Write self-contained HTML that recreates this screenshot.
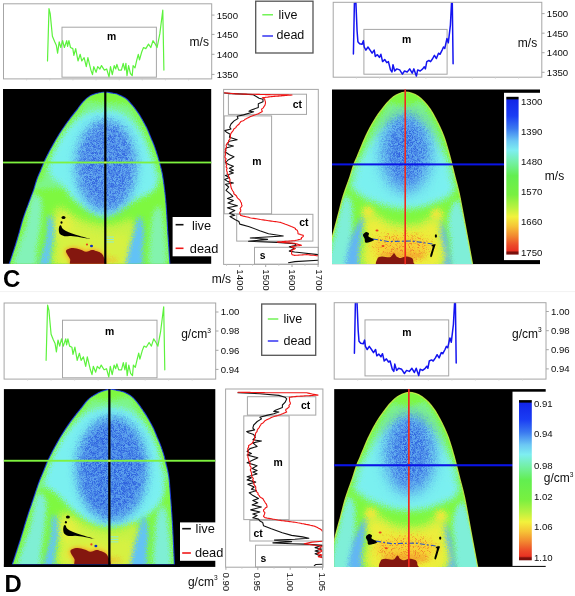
<!DOCTYPE html>
<html lang="en"><head><meta charset="utf-8"><title>Figure C D</title>
<style>html,body{margin:0;padding:0;background:#fff}svg{display:block}text{font-family:'Liberation Sans', Arial, sans-serif}</style>
</head><body>
<svg width="575" height="596" viewBox="0 0 575 596">
<defs>
<filter id="b25" x="-30%" y="-30%" width="160%" height="160%"><feGaussianBlur stdDeviation="2.5"/></filter>
<filter id="b2" x="-30%" y="-30%" width="160%" height="160%"><feGaussianBlur stdDeviation="2.0"/></filter>
<filter id="b3" x="-30%" y="-30%" width="160%" height="160%"><feGaussianBlur stdDeviation="3.0"/></filter>
<filter id="b4" x="-30%" y="-30%" width="160%" height="160%"><feGaussianBlur stdDeviation="4.0"/></filter>
<filter id="b5" x="-30%" y="-30%" width="160%" height="160%"><feGaussianBlur stdDeviation="5.0"/></filter>
<filter id="b6" x="-30%" y="-30%" width="160%" height="160%"><feGaussianBlur stdDeviation="6.0"/></filter>
<filter id="b7" x="-30%" y="-30%" width="160%" height="160%"><feGaussianBlur stdDeviation="7.0"/></filter>
<filter id="nz" x="-40%" y="-40%" width="180%" height="180%"><feGaussianBlur in="SourceGraphic" stdDeviation="6" result="bl"/><feTurbulence type="fractalNoise" baseFrequency="0.42" numOctaves="2" seed="3" result="t"/><feColorMatrix in="t" type="matrix" values="0 0 0 0 0  0 0 0 0 0  0 0 0 0 0  3.2 0 0 0 -1.15" result="na"/><feComposite in="bl" in2="na" operator="in"/></filter>
<filter id="nz3" x="-40%" y="-40%" width="180%" height="180%"><feGaussianBlur in="SourceGraphic" stdDeviation="4" result="bl"/><feTurbulence type="fractalNoise" baseFrequency="0.6" numOctaves="2" seed="21" result="t"/><feColorMatrix in="t" type="matrix" values="0 0 0 0 0  0 0 0 0 0  0 0 0 0 0  4.5 0 0 0 -2.35" result="na"/><feComposite in="bl" in2="na" operator="in"/></filter>
<filter id="nz2" x="-40%" y="-40%" width="180%" height="180%"><feGaussianBlur in="SourceGraphic" stdDeviation="8" result="bl"/><feTurbulence type="fractalNoise" baseFrequency="0.55" numOctaves="2" seed="11" result="t"/><feColorMatrix in="t" type="matrix" values="0 0 0 0 0  0 0 0 0 0  0 0 0 0 0  3.2 0 0 0 -1.15" result="na"/><feComposite in="bl" in2="na" operator="in"/></filter>
<filter id="grain" x="-5%" y="-5%" width="110%" height="110%"><feTurbulence type="fractalNoise" baseFrequency="0.8" numOctaves="1" seed="7" result="t"/><feDisplacementMap in="SourceGraphic" in2="t" scale="9" xChannelSelector="R" yChannelSelector="G"/></filter>
<linearGradient id="cbar" x1="0" y1="0" x2="0" y2="1">
<stop offset="0.000" stop-color="#000000"/>
<stop offset="0.012" stop-color="#000000"/>
<stop offset="0.020" stop-color="#1226e8"/>
<stop offset="0.120" stop-color="#1a3cf4"/>
<stop offset="0.200" stop-color="#3a78f0"/>
<stop offset="0.280" stop-color="#6cc8f4"/>
<stop offset="0.340" stop-color="#7eeef0"/>
<stop offset="0.420" stop-color="#72f0a0"/>
<stop offset="0.500" stop-color="#62ee50"/>
<stop offset="0.620" stop-color="#78f040"/>
<stop offset="0.700" stop-color="#b8f240"/>
<stop offset="0.760" stop-color="#f2f23c"/>
<stop offset="0.820" stop-color="#f6c436"/>
<stop offset="0.880" stop-color="#f28a30"/>
<stop offset="0.940" stop-color="#ec4a28"/>
<stop offset="0.975" stop-color="#e83222"/>
<stop offset="0.985" stop-color="#7a100c"/>
<stop offset="1.000" stop-color="#7a100c"/>
</linearGradient>
</defs>
<rect width="575" height="596" fill="#fff"/>
<line x1="0" y1="291.6" x2="575" y2="291.6" stroke="#f2f2f2" stroke-width="1"/>
<clipPath id="cpA"><rect x="3.5" y="3.8" width="208.2" height="75.1"/></clipPath>
<rect x="62.0" y="27.2" width="94.4" height="50.0" fill="none" stroke="#a6a6a6" stroke-width="1.00" />
<polyline points="47.5,61.0 49.0,8.6 50.2,13.6 52.4,36.2 54.7,41.8 56.3,45.2 57.6,53.1 59.2,41.8 60.8,47.5 62.6,40.7 64.4,47.5 66.7,40.7 67.6,46.3 68.9,40.7 70.5,47.5 72.8,48.6 73.9,55.4 75.7,48.6 78.0,61.0 80.2,54.3 81.8,61.0 84.1,57.7 86.3,66.7 87.9,57.7 90.9,70.1 92.5,74.6 93.8,66.7 96.1,72.3 97.7,66.7 99.9,69.0 101.5,65.6 104.4,70.1 106.7,69.0 109.0,76.9 110.5,66.7 112.3,74.6 114.2,65.6 115.7,69.0 116.9,64.4 118.7,70.1 121.4,70.1 123.2,63.3 124.8,70.1 125.9,63.3 127.0,75.7 128.6,65.6 130.4,73.5 132.2,75.7 133.1,65.6 135.0,67.8 136.8,59.9 138.3,54.3 139.5,59.9 141.7,52.0 143.5,47.5 145.8,48.6 148.5,44.1 150.8,47.5 153.0,40.7 155.3,44.1 157.1,47.5 159.8,33.9 162.8,10.2 163.9,70.1" fill="none" stroke="#5cf23c" stroke-width="1.20" stroke-linejoin="round" stroke-linecap="round" clip-path="url(#cpA)"/>
<rect x="3.5" y="3.8" width="208.2" height="75.1" fill="none" stroke="#a6a6a6" stroke-width="1.00" />
<line x1="211.7" y1="15.1" x2="214.5" y2="15.1" stroke="#a6a6a6" stroke-width="1"/>
<text x="216.7" y="18.5" font-size="9.6" font-weight="normal" text-anchor="start" fill="#0d0d0d" >1500</text>
<line x1="211.7" y1="34.4" x2="214.5" y2="34.4" stroke="#a6a6a6" stroke-width="1"/>
<text x="216.7" y="37.8" font-size="9.6" font-weight="normal" text-anchor="start" fill="#0d0d0d" >1450</text>
<line x1="211.7" y1="54.3" x2="214.5" y2="54.3" stroke="#a6a6a6" stroke-width="1"/>
<text x="216.7" y="57.7" font-size="9.6" font-weight="normal" text-anchor="start" fill="#0d0d0d" >1400</text>
<line x1="211.7" y1="74.4" x2="214.5" y2="74.4" stroke="#a6a6a6" stroke-width="1"/>
<text x="216.7" y="77.8" font-size="9.6" font-weight="normal" text-anchor="start" fill="#0d0d0d" >1350</text>
<line x1="26.6" y1="78.9" x2="26.6" y2="80.4" stroke="#d0d0d0" stroke-width="0.8"/>
<line x1="49.8" y1="78.9" x2="49.8" y2="80.4" stroke="#d0d0d0" stroke-width="0.8"/>
<line x1="72.9" y1="78.9" x2="72.9" y2="80.4" stroke="#d0d0d0" stroke-width="0.8"/>
<line x1="96.0" y1="78.9" x2="96.0" y2="80.4" stroke="#d0d0d0" stroke-width="0.8"/>
<line x1="119.2" y1="78.9" x2="119.2" y2="80.4" stroke="#d0d0d0" stroke-width="0.8"/>
<line x1="142.3" y1="78.9" x2="142.3" y2="80.4" stroke="#d0d0d0" stroke-width="0.8"/>
<line x1="165.4" y1="78.9" x2="165.4" y2="80.4" stroke="#d0d0d0" stroke-width="0.8"/>
<line x1="188.6" y1="78.9" x2="188.6" y2="80.4" stroke="#d0d0d0" stroke-width="0.8"/>
<text x="189.6" y="45.6" font-size="12.0" font-weight="normal" text-anchor="start" fill="#0d0d0d" >m/s</text>
<text x="111.6" y="40.3" font-size="10.4" font-weight="bold" text-anchor="middle" fill="#000" >m</text>
<clipPath id="cpB"><rect x="333.2" y="2.3" width="208.6" height="74.9"/></clipPath>
<rect x="363.9" y="29.4" width="83.2" height="44.8" fill="none" stroke="#a6a6a6" stroke-width="1.00" />
<polyline points="353.4,53.9 354.4,3.1 355.9,2.5 357.1,31.3 357.9,41.8 359.6,43.8 362.1,44.3 363.4,40.7 364.2,47.0 365.9,50.1 368.0,47.0 370.1,50.1 372.1,53.2 374.2,50.1 375.3,56.4 377.4,54.7 379.4,57.4 380.9,54.3 382.6,61.6 384.7,59.5 386.8,62.6 388.4,61.6 390.5,69.9 392.0,72.0 393.0,64.7 394.7,71.0 396.8,68.9 399.7,69.9 402.4,74.1 404.5,71.0 407.2,72.0 409.7,68.9 412.2,73.1 413.9,68.9 416.4,76.2 417.7,69.9 420.2,71.0 422.7,68.9 424.3,66.8 425.4,68.9 426.8,61.6 428.9,60.5 430.6,61.6 432.7,58.5 434.4,55.3 436.4,58.5 438.5,53.2 440.0,54.3 442.1,50.1 443.5,47.0 444.8,48.4 446.9,38.6 448.3,42.8 450.4,25.1 451.5,3.1 452.3,3.1 453.1,63.7" fill="none" stroke="#1414f0" stroke-width="1.50" stroke-linejoin="round" stroke-linecap="round" clip-path="url(#cpB)"/>
<rect x="333.2" y="2.3" width="208.6" height="74.9" fill="none" stroke="#a6a6a6" stroke-width="1.00" />
<line x1="541.8" y1="13.6" x2="544.6" y2="13.6" stroke="#a6a6a6" stroke-width="1"/>
<text x="546.8" y="17.0" font-size="9.6" font-weight="normal" text-anchor="start" fill="#0d0d0d" >1500</text>
<line x1="541.8" y1="33.2" x2="544.6" y2="33.2" stroke="#a6a6a6" stroke-width="1"/>
<text x="546.8" y="36.6" font-size="9.6" font-weight="normal" text-anchor="start" fill="#0d0d0d" >1450</text>
<line x1="541.8" y1="52.7" x2="544.6" y2="52.7" stroke="#a6a6a6" stroke-width="1"/>
<text x="546.8" y="56.1" font-size="9.6" font-weight="normal" text-anchor="start" fill="#0d0d0d" >1400</text>
<line x1="541.8" y1="72.3" x2="544.6" y2="72.3" stroke="#a6a6a6" stroke-width="1"/>
<text x="546.8" y="75.7" font-size="9.6" font-weight="normal" text-anchor="start" fill="#0d0d0d" >1350</text>
<line x1="356.4" y1="77.2" x2="356.4" y2="78.7" stroke="#d0d0d0" stroke-width="0.8"/>
<line x1="379.6" y1="77.2" x2="379.6" y2="78.7" stroke="#d0d0d0" stroke-width="0.8"/>
<line x1="402.7" y1="77.2" x2="402.7" y2="78.7" stroke="#d0d0d0" stroke-width="0.8"/>
<line x1="425.9" y1="77.2" x2="425.9" y2="78.7" stroke="#d0d0d0" stroke-width="0.8"/>
<line x1="449.1" y1="77.2" x2="449.1" y2="78.7" stroke="#d0d0d0" stroke-width="0.8"/>
<line x1="472.3" y1="77.2" x2="472.3" y2="78.7" stroke="#d0d0d0" stroke-width="0.8"/>
<line x1="495.4" y1="77.2" x2="495.4" y2="78.7" stroke="#d0d0d0" stroke-width="0.8"/>
<line x1="518.6" y1="77.2" x2="518.6" y2="78.7" stroke="#d0d0d0" stroke-width="0.8"/>
<text x="517.8" y="46.5" font-size="12.0" font-weight="normal" text-anchor="start" fill="#0d0d0d" >m/s</text>
<text x="406.5" y="43.0" font-size="10.4" font-weight="bold" text-anchor="middle" fill="#000" >m</text>
<rect x="255.7" y="1.2" width="57.3" height="51.8" fill="#fff" stroke="#555" stroke-width="1.30" />
<line x1="262.3" y1="14.8" x2="273" y2="14.8" stroke="#5cf23c" stroke-width="1.3"/>
<line x1="262.3" y1="36" x2="273" y2="36" stroke="#1414f0" stroke-width="1.3"/>
<text x="278.6" y="18.6" font-size="12.5" font-weight="normal" text-anchor="start" fill="#0d0d0d" >live</text>
<text x="276.5" y="39.3" font-size="12.5" font-weight="normal" text-anchor="start" fill="#0d0d0d" >dead</text>
<clipPath id="clip1"><path d="M8.2,266.0 C8.5,265.3 8.4,266.4 9.9,262.0 C11.4,257.6 15.0,246.7 17.2,239.5 C19.4,232.3 20.8,225.9 23.0,219.0 C25.2,212.1 28.8,203.0 30.6,198.0 C32.4,193.0 32.9,192.2 33.9,189.1 C34.9,186.0 35.8,182.5 36.9,179.3 C38.0,176.2 39.5,173.2 40.7,170.2 C42.0,167.2 43.0,164.2 44.4,161.2 C45.8,158.2 47.5,155.0 49.0,152.1 C50.5,149.2 51.9,146.7 53.5,143.8 C55.1,140.9 56.9,137.7 58.8,134.7 C60.7,131.7 62.8,128.6 64.8,125.7 C66.8,122.8 68.9,120.1 70.9,117.4 C72.9,114.8 74.9,112.4 76.9,109.8 C78.9,107.2 80.9,104.1 83.0,101.8 C85.1,99.5 87.4,97.5 89.6,96.1 C91.8,94.7 93.5,94.2 96.1,93.5 C98.7,92.8 102.2,92.0 105.0,92.0 C107.8,92.0 110.8,92.9 113.0,93.3 C115.2,93.7 115.9,93.6 118.0,94.4 C120.1,95.2 123.3,96.7 125.6,98.3 C127.9,99.9 129.7,102.2 131.6,104.3 C133.5,106.4 135.1,108.6 136.9,111.1 C138.7,113.6 140.6,116.6 142.2,119.4 C143.8,122.2 145.3,124.9 146.7,127.8 C148.1,130.7 149.2,133.8 150.5,136.8 C151.8,139.8 153.2,142.9 154.3,145.9 C155.4,148.9 156.4,152.1 157.3,154.9 C158.2,157.7 158.8,159.7 159.5,162.5 C160.2,165.3 161.2,168.6 161.8,171.5 C162.4,174.4 162.6,175.0 163.3,180.0 C164.0,185.0 165.1,192.5 165.8,201.3 C166.6,210.1 167.1,221.8 167.8,232.6 C168.5,243.4 169.6,260.4 170.0,266.0Z"/></clipPath>
<clipPath id="box1"><rect x="3.0" y="89.0" width="208.2" height="174.8"/></clipPath>
<rect x="3.0" y="89.0" width="208.2" height="174.8" fill="#000"/>
<g clip-path="url(#box1)">
<g clip-path="url(#clip1)">
<path d="M8.2,266.0 C8.5,265.3 8.4,266.4 9.9,262.0 C11.4,257.6 15.0,246.7 17.2,239.5 C19.4,232.3 20.8,225.9 23.0,219.0 C25.2,212.1 28.8,203.0 30.6,198.0 C32.4,193.0 32.9,192.2 33.9,189.1 C34.9,186.0 35.8,182.5 36.9,179.3 C38.0,176.2 39.5,173.2 40.7,170.2 C42.0,167.2 43.0,164.2 44.4,161.2 C45.8,158.2 47.5,155.0 49.0,152.1 C50.5,149.2 51.9,146.7 53.5,143.8 C55.1,140.9 56.9,137.7 58.8,134.7 C60.7,131.7 62.8,128.6 64.8,125.7 C66.8,122.8 68.9,120.1 70.9,117.4 C72.9,114.8 74.9,112.4 76.9,109.8 C78.9,107.2 80.9,104.1 83.0,101.8 C85.1,99.5 87.4,97.5 89.6,96.1 C91.8,94.7 93.5,94.2 96.1,93.5 C98.7,92.8 102.2,92.0 105.0,92.0 C107.8,92.0 110.8,92.9 113.0,93.3 C115.2,93.7 115.9,93.6 118.0,94.4 C120.1,95.2 123.3,96.7 125.6,98.3 C127.9,99.9 129.7,102.2 131.6,104.3 C133.5,106.4 135.1,108.6 136.9,111.1 C138.7,113.6 140.6,116.6 142.2,119.4 C143.8,122.2 145.3,124.9 146.7,127.8 C148.1,130.7 149.2,133.8 150.5,136.8 C151.8,139.8 153.2,142.9 154.3,145.9 C155.4,148.9 156.4,152.1 157.3,154.9 C158.2,157.7 158.8,159.7 159.5,162.5 C160.2,165.3 161.2,168.6 161.8,171.5 C162.4,174.4 162.6,175.0 163.3,180.0 C164.0,185.0 165.1,192.5 165.8,201.3 C166.6,210.1 167.1,221.8 167.8,232.6 C168.5,243.4 169.6,260.4 170.0,266.0Z" fill="#7ef840"/>
<g filter="url(#grain)">
<path d="M8.2,266.0 C8.5,265.3 8.4,266.4 9.9,262.0 C11.4,257.6 15.0,246.7 17.2,239.5 C19.4,232.3 20.8,225.9 23.0,219.0 C25.2,212.1 28.8,203.0 30.6,198.0 C32.4,193.0 32.9,192.2 33.9,189.1 C34.9,186.0 35.8,182.5 36.9,179.3 C38.0,176.2 39.5,173.2 40.7,170.2 C42.0,167.2 43.0,164.2 44.4,161.2 C45.8,158.2 47.5,155.0 49.0,152.1 C50.5,149.2 51.9,146.7 53.5,143.8 C55.1,140.9 56.9,137.7 58.8,134.7 C60.7,131.7 62.8,128.6 64.8,125.7 C66.8,122.8 68.9,120.1 70.9,117.4 C72.9,114.8 74.9,112.4 76.9,109.8 C78.9,107.2 80.9,104.1 83.0,101.8 C85.1,99.5 87.4,97.5 89.6,96.1 C91.8,94.7 93.5,94.2 96.1,93.5 C98.7,92.8 102.2,92.0 105.0,92.0 C107.8,92.0 110.8,92.9 113.0,93.3 C115.2,93.7 115.9,93.6 118.0,94.4 C120.1,95.2 123.3,96.7 125.6,98.3 C127.9,99.9 129.7,102.2 131.6,104.3 C133.5,106.4 135.1,108.6 136.9,111.1 C138.7,113.6 140.6,116.6 142.2,119.4 C143.8,122.2 145.3,124.9 146.7,127.8 C148.1,130.7 149.2,133.8 150.5,136.8 C151.8,139.8 153.2,142.9 154.3,145.9 C155.4,148.9 156.4,152.1 157.3,154.9 C158.2,157.7 158.8,159.7 159.5,162.5 C160.2,165.3 161.2,168.6 161.8,171.5 C162.4,174.4 162.6,175.0 163.3,180.0 C164.0,185.0 165.1,192.5 165.8,201.3 C166.6,210.1 167.1,221.8 167.8,232.6 C168.5,243.4 169.6,260.4 170.0,266.0Z" fill="#7ef840"/>
<g filter="url(#b2)"><path d="M105.0,103.0 C111.6,103.4 122.5,103.0 127.1,104.3 C131.7,105.6 130.6,108.6 132.4,111.1 C134.2,113.6 136.1,116.6 137.7,119.4 C139.3,122.2 140.8,124.9 142.2,127.8 C143.6,130.7 144.7,133.8 146.0,136.8 C147.3,139.8 148.7,142.9 149.8,145.9 C150.9,148.9 151.9,152.1 152.8,154.9 C153.7,157.7 154.2,159.7 155.0,162.5 C155.8,165.3 156.7,168.6 157.3,171.5 C157.9,174.4 178.6,177.1 158.8,180.0 C139.0,182.9 58.0,189.2 38.4,189.1 C18.8,189.0 40.3,182.5 41.4,179.3 C42.5,176.2 44.0,173.2 45.2,170.2 C46.5,167.2 47.5,164.2 48.9,161.2 C50.3,158.2 52.0,155.0 53.5,152.1 C55.0,149.2 56.4,146.7 58.0,143.8 C59.6,140.9 61.4,137.7 63.3,134.7 C65.2,131.7 67.3,128.6 69.3,125.7 C71.3,122.8 73.4,120.1 75.4,117.4 C77.4,114.8 79.4,112.4 81.4,109.8 C83.4,107.2 83.6,102.9 87.5,101.8 C91.4,100.7 98.4,102.6 105.0,103.0Z" fill="#7af0f0" opacity="0.42"/></g>
<g filter="url(#b25)"><path d="M105.0,110.0 C109.2,110.1 114.2,110.3 118.0,111.5 C121.8,112.7 125.0,114.6 128.0,117.0 C131.0,119.4 133.5,122.7 136.0,126.0 C138.5,129.3 140.9,133.0 143.0,137.0 C145.1,141.0 146.8,145.8 148.5,150.0 C150.2,154.2 151.5,157.0 153.0,162.0 C154.5,167.0 157.0,175.7 157.5,180.0 C158.0,184.3 157.2,185.8 156.0,188.0 C154.8,190.2 153.0,191.2 150.0,193.0 C147.0,194.8 141.7,197.0 138.0,199.0 C134.3,201.0 131.3,202.8 128.0,205.0 C124.7,207.2 121.0,210.2 118.0,212.0 C115.0,213.8 112.2,215.2 110.0,216.0 C107.8,216.8 106.7,216.9 105.0,217.0 C103.3,217.1 102.5,217.3 100.0,216.5 C97.5,215.7 93.3,213.9 90.0,212.0 C86.7,210.1 83.0,207.3 80.0,205.0 C77.0,202.7 74.3,200.5 72.0,198.0 C69.7,195.5 68.0,192.5 66.0,190.0 C64.0,187.5 62.2,184.8 60.0,183.0 C57.8,181.2 54.8,181.2 53.0,179.0 C51.2,176.8 49.4,172.8 49.0,170.0 C48.6,167.2 49.5,165.3 50.5,162.0 C51.5,158.7 53.1,154.2 55.0,150.0 C56.9,145.8 59.4,141.0 62.0,137.0 C64.6,133.0 67.3,129.4 70.5,126.0 C73.7,122.6 77.2,119.0 81.0,116.5 C84.8,114.0 89.0,112.1 93.0,111.0 C97.0,109.9 100.8,109.9 105.0,110.0Z" fill="#7af0f0" opacity="1.00"/></g>
<g filter="url(#b5)"><ellipse cx="106.0" cy="166.0" rx="30.0" ry="46.0" fill="#62a6ee" opacity="0.95"/></g>
<g filter="url(#nz)"><ellipse cx="106.0" cy="165.0" rx="28.0" ry="44.0" fill="#3468e0" opacity="1.00"/></g>
<g filter="url(#b2)"><path d="M32.0,196.0 C34.6,191.7 40.1,195.0 41.5,200.0 C42.9,205.0 41.2,217.7 40.5,226.0 C39.8,234.3 38.0,243.2 37.0,250.0 C36.0,256.8 38.3,264.2 34.5,267.0 C30.7,269.8 16.6,270.7 14.0,267.0 C11.4,263.3 17.1,251.8 19.0,245.0 C20.9,238.2 23.5,234.2 25.7,226.0 C27.9,217.8 29.4,200.3 32.0,196.0Z" fill="#84f2cc" opacity="0.85"/></g>
<g filter="url(#b2)"><path d="M153.0,214.0 C154.7,208.5 158.2,205.2 160.0,207.0 C161.8,208.8 163.0,215.0 164.0,225.0 C165.0,235.0 168.3,260.0 166.0,267.0 C163.7,274.0 152.7,271.5 150.0,267.0 C147.3,262.5 149.5,248.8 150.0,240.0 C150.5,231.2 151.3,219.5 153.0,214.0Z" fill="#84f2c0" opacity="0.85"/></g>
<g filter="url(#b3)"><path d="M55.0,210.0 C56.7,207.0 59.2,206.3 62.0,207.0 C64.8,207.7 68.0,211.7 72.0,214.0 C76.0,216.3 80.3,219.2 86.0,221.0 C91.7,222.8 100.0,224.8 106.0,225.0 C112.0,225.2 118.0,223.0 122.0,222.0 C126.0,221.0 127.7,218.3 130.0,219.0 C132.3,219.7 135.3,221.7 136.0,226.0 C136.7,230.3 134.7,238.2 134.0,245.0 C133.3,251.8 144.7,263.3 132.0,267.0 C119.3,270.7 71.0,270.7 58.0,267.0 C45.0,263.3 55.0,252.0 54.0,245.0 C53.0,238.0 51.8,230.8 52.0,225.0 C52.2,219.2 53.3,213.0 55.0,210.0Z" fill="#c6f244" opacity="1.00"/></g>
<g filter="url(#b3)"><path d="M58.0,216.0 C59.7,214.0 63.0,212.7 66.0,214.0 C69.0,215.3 71.7,221.0 76.0,224.0 C80.3,227.0 86.7,230.0 92.0,232.0 C97.3,234.0 103.0,235.7 108.0,236.0 C113.0,236.3 118.7,233.3 122.0,234.0 C125.3,234.7 127.3,234.5 128.0,240.0 C128.7,245.5 137.0,262.5 126.0,267.0 C115.0,271.5 73.3,270.8 62.0,267.0 C50.7,263.2 59.0,250.8 58.0,244.0 C57.0,237.2 56.0,230.7 56.0,226.0 C56.0,221.3 56.3,218.0 58.0,216.0Z" fill="#e8f03e" opacity="0.48"/></g>
<g filter="url(#b3)"><ellipse cx="64.0" cy="226.0" rx="7.0" ry="10.0" fill="#eef03c" opacity="0.70"/></g>
<g filter="url(#b3)"><ellipse cx="84.0" cy="254.0" rx="22.0" ry="7.0" fill="#f8dc34" opacity="0.80"/></g>
<g filter="url(#b2)"><ellipse cx="111.0" cy="260.0" rx="7.0" ry="3.5" fill="#f6b42e" opacity="0.50"/></g>
<g filter="url(#b2)"><path d="M48.0,217.0 C49.0,214.2 51.6,215.8 52.5,219.0 C53.4,222.2 53.8,230.8 53.5,236.0 C53.2,241.2 51.8,244.8 51.0,250.0 C50.2,255.2 50.7,264.2 48.8,267.0 C46.9,269.8 40.5,269.8 39.5,267.0 C38.5,264.2 41.8,255.2 43.0,250.0 C44.2,244.8 45.7,241.5 46.5,236.0 C47.3,230.5 47.0,219.8 48.0,217.0Z" fill="#64c6f4" opacity="1.00"/></g>
<g filter="url(#b2)"><path d="M138.0,218.0 C139.5,215.3 141.0,217.0 142.0,220.0 C143.0,223.0 143.9,231.0 144.0,236.0 C144.1,241.0 142.9,244.8 142.5,250.0 C142.1,255.2 144.2,264.2 141.6,267.0 C139.0,269.8 129.1,269.8 127.0,267.0 C124.9,264.2 128.0,255.2 129.0,250.0 C130.0,244.8 131.5,241.3 133.0,236.0 C134.5,230.7 136.5,220.7 138.0,218.0Z" fill="#62c2f6" opacity="1.00"/></g>
</g>
<g filter="url(#b2)"><path d="M66.0,251.0 C66.4,249.2 70.2,248.2 72.5,248.0 C74.8,247.8 77.8,248.9 80.0,249.5 C82.2,250.1 84.0,251.6 86.0,251.7 C88.0,251.8 90.3,250.1 92.0,250.0 C93.7,249.9 94.6,250.6 96.0,251.0 C97.4,251.4 99.2,251.8 100.4,252.7 C101.7,253.6 102.9,254.3 103.5,256.5 C104.1,258.7 109.1,264.4 104.0,266.0 C98.9,267.6 78.7,267.2 73.0,266.0 C67.3,264.8 71.2,261.5 70.0,259.0 C68.8,256.5 65.6,252.8 66.0,251.0Z" fill="#f07a26" opacity="0.90"/></g>
<path d="M66.0,251.0 C66.4,249.2 70.2,248.2 72.5,248.0 C74.8,247.8 77.8,248.9 80.0,249.5 C82.2,250.1 84.0,251.6 86.0,251.7 C88.0,251.8 90.3,250.1 92.0,250.0 C93.7,249.9 94.6,250.6 96.0,251.0 C97.4,251.4 99.2,251.8 100.4,252.7 C101.7,253.6 102.9,254.3 103.5,256.5 C104.1,258.7 109.1,264.4 104.0,266.0 C98.9,267.6 78.7,267.2 73.0,266.0 C67.3,264.8 71.2,261.5 70.0,259.0 C68.8,256.5 65.6,252.8 66.0,251.0Z" fill="#84170f" opacity="1.00"/>
<ellipse cx="63.5" cy="217.5" rx="2.0" ry="1.5" fill="#000" opacity="1.00"/>
<ellipse cx="61.5" cy="222.5" rx="1.0" ry="1.2" fill="#000" opacity="1.00"/>
<path d="M59.5,226.0 C59.9,225.2 60.5,225.1 61.0,225.5 C61.5,225.9 61.7,227.6 62.5,228.5 C63.3,229.4 64.4,230.2 66.0,231.0 C67.6,231.8 69.7,232.6 72.0,233.4 C74.3,234.2 77.0,235.1 80.0,236.0 C83.0,236.9 90.0,238.8 90.0,239.0 C90.0,239.2 83.2,237.7 80.0,237.2 C76.8,236.7 73.6,236.2 71.0,236.0 C68.4,235.8 66.3,236.5 64.5,236.2 C62.7,235.9 61.0,235.0 60.0,234.0 C59.0,233.0 58.9,231.3 58.8,230.0 C58.7,228.7 59.1,226.8 59.5,226.0Z" fill="#000" opacity="1.00"/>
<ellipse cx="91.5" cy="246.0" rx="1.5" ry="1.2" fill="#1030c0" opacity="1.00"/>
<ellipse cx="87.0" cy="244.5" rx="1.1" ry="1.1" fill="#e84020" opacity="1.00"/>
<line x1="106.0" y1="237.0" x2="114.0" y2="237.0" stroke="#8eeed0" stroke-width="1"/>
<line x1="106.0" y1="239.5" x2="114.0" y2="239.5" stroke="#8eeed0" stroke-width="1"/>
<line x1="106.0" y1="242.0" x2="114.0" y2="242.0" stroke="#8eeed0" stroke-width="1"/>
</g>
<path d="M8.2,266.0 C8.5,265.3 8.4,266.4 9.9,262.0 C11.4,257.6 15.0,246.7 17.2,239.5 C19.4,232.3 20.8,225.9 23.0,219.0 C25.2,212.1 28.8,203.0 30.6,198.0 C32.4,193.0 32.9,192.2 33.9,189.1 C34.9,186.0 35.8,182.5 36.9,179.3 C38.0,176.2 39.5,173.2 40.7,170.2 C42.0,167.2 43.0,164.2 44.4,161.2 C45.8,158.2 47.5,155.0 49.0,152.1 C50.5,149.2 51.9,146.7 53.5,143.8 C55.1,140.9 56.9,137.7 58.8,134.7 C60.7,131.7 62.8,128.6 64.8,125.7 C66.8,122.8 68.9,120.1 70.9,117.4 C72.9,114.8 74.9,112.4 76.9,109.8 C78.9,107.2 80.9,104.1 83.0,101.8 C85.1,99.5 87.4,97.5 89.6,96.1 C91.8,94.7 93.5,94.2 96.1,93.5 C98.7,92.8 102.2,92.0 105.0,92.0 C107.8,92.0 110.8,92.9 113.0,93.3 C115.2,93.7 115.9,93.6 118.0,94.4 C120.1,95.2 123.3,96.7 125.6,98.3 C127.9,99.9 129.7,102.2 131.6,104.3 C133.5,106.4 135.1,108.6 136.9,111.1 C138.7,113.6 140.6,116.6 142.2,119.4 C143.8,122.2 145.3,124.9 146.7,127.8 C148.1,130.7 149.2,133.8 150.5,136.8 C151.8,139.8 153.2,142.9 154.3,145.9 C155.4,148.9 156.4,152.1 157.3,154.9 C158.2,157.7 158.8,159.7 159.5,162.5 C160.2,165.3 161.2,168.6 161.8,171.5 C162.4,174.4 162.6,175.0 163.3,180.0 C164.0,185.0 165.1,192.5 165.8,201.3 C166.6,210.1 167.1,221.8 167.8,232.6 C168.5,243.4 169.6,260.4 170.0,266.0Z" fill="none" stroke="#1c3cf0" stroke-width="1.1" opacity="0.85"/>
</g>
<rect x="104.2" y="89" width="2.2" height="174.8" fill="#000"/>
<rect x="3" y="161.6" width="208.3" height="1.8" fill="#7ef23e"/>
<rect x="104.2" y="161.6" width="2.2" height="1.8" fill="#c8f040"/>
<rect x="172.6" y="217" width="50" height="39.3" fill="#fff"/>
<line x1="175.6" y1="224.7" x2="183.5" y2="224.7" stroke="#111" stroke-width="1.6"/>
<line x1="175.6" y1="248.3" x2="183.5" y2="248.3" stroke="#f01818" stroke-width="1.6"/>
<text x="191.9" y="229.5" font-size="12.8" font-weight="normal" text-anchor="start" fill="#0d0d0d" >live</text>
<text x="189.8" y="252.5" font-size="12.8" font-weight="normal" text-anchor="start" fill="#0d0d0d" >dead</text>
<text x="3.1" y="287.3" font-size="24.0" font-weight="bold" text-anchor="start" fill="#000" >C</text>
<clipPath id="cpC"><rect x="223.6" y="89.4" width="94.8" height="175"/></clipPath>
<rect x="228.4" y="94.2" width="78.1" height="20.2" fill="none" stroke="#a6a6a6" stroke-width="1.00" />
<rect x="224.2" y="115.9" width="47.4" height="97.9" fill="none" stroke="#a6a6a6" stroke-width="1.00" />
<rect x="236.7" y="214.3" width="76.2" height="26.8" fill="none" stroke="#a6a6a6" stroke-width="1.00" />
<rect x="254.5" y="247.3" width="63.8" height="16.9" fill="none" stroke="#a6a6a6" stroke-width="1.00" />
<polyline points="223.4,93.0 252.9,94.6 259.1,98.2 263.0,99.3 263.0,101.8 258.3,103.7 258.3,107.6 251.3,109.9 249.0,111.2 253.7,111.8 249.7,113.0 243.5,114.9 237.2,116.2 238.0,118.5 234.1,120.9 231.0,124.0 229.7,127.1 231.0,129.0 224.7,130.6 227.0,132.6 230.2,134.2 229.4,137.3 237.2,139.7 229.4,141.2 228.0,142.7 228.0,144.7 233.4,146.0 226.0,148.0 225.4,152.0 229.4,154.8 234.0,156.8 228.0,160.0 225.4,162.8 229.4,164.8 233.4,166.2 229.4,168.2 233.4,170.2 229.4,171.5 233.4,172.9 225.4,175.6 229.4,177.6 224.7,179.6 228.0,181.6 233.4,183.0 225.4,184.3 228.7,187.0 226.0,190.3 230.0,193.7 232.8,196.4 227.4,198.4 233.4,200.4 228.0,203.0 237.4,205.8 227.4,207.8 234.8,210.5 229.4,213.2 234.8,215.2 230.0,216.5 235.4,219.8 238.9,221.5 239.8,224.1 249.3,226.7 259.8,230.7 268.5,233.7 283.3,236.0 250.2,238.0 267.6,239.4 248.5,241.2 277.2,242.4 294.6,243.6 296.3,245.3 289.3,246.7 294.6,248.5 289.3,251.1 294.6,252.0 301.5,252.8 318.0,254.6" fill="none" stroke="#111" stroke-width="1.10" stroke-linejoin="round" stroke-linecap="round" clip-path="url(#cpC)"/>
<polyline points="288.5,262.7 295.0,261.6 318.0,260.3" fill="none" stroke="#111" stroke-width="1.10" stroke-linejoin="round" stroke-linecap="round" clip-path="url(#cpC)"/>
<polyline points="223.4,92.7 224.8,92.8 226.1,93.0 227.5,93.1 228.9,93.2 230.2,93.4 231.6,93.5 233.0,93.6 234.3,93.8 235.7,93.9 237.0,93.9 238.3,94.0 239.6,94.0 240.9,94.0 242.2,94.0 243.5,94.1 244.8,94.1 246.1,94.1 247.4,94.2 248.7,94.2 250.0,94.2 251.3,94.2 252.7,94.3 254.0,94.3 255.3,94.3 256.6,94.4 257.9,94.4 259.2,94.4 260.5,94.5 261.8,94.5 263.1,94.5 264.4,94.5 265.7,94.6 267.0,94.6 268.3,94.6 269.6,94.6 270.9,94.7 272.3,94.7 273.6,94.7 274.9,94.7 276.2,94.7 277.5,94.8 278.8,94.8 280.2,94.8 281.5,94.8 282.8,94.9 284.1,94.9 285.4,94.9 286.7,94.9 288.1,94.9 289.4,95.0 290.7,95.0 292.0,95.0 290.6,95.1 289.3,95.2 287.9,95.3 286.6,95.4 285.2,95.5 283.9,95.6 282.5,95.7 281.2,95.9 279.8,96.0 278.5,96.1 277.1,96.2 275.8,96.3 274.4,96.4 273.1,96.5 271.7,96.6 270.4,96.8 269.0,96.9 267.7,97.1 266.3,97.2 265.0,97.4 263.6,97.5 262.3,97.7 263.5,98.3 264.6,99.0 265.0,100.6 265.5,102.1 265.4,103.7 265.0,105.2 263.8,106.8 263.3,107.9 261.5,109.1 262.3,111.5 261.0,112.3 259.6,113.0 258.3,113.8 256.9,114.3 255.5,114.8 254.1,115.2 252.7,115.7 251.3,116.2 250.0,116.8 248.8,117.4 247.5,118.1 246.3,118.7 245.0,119.3 244.2,120.1 243.2,120.8 240.8,121.6 240.3,122.4 239.3,123.4 239.0,124.3 237.6,125.3 236.4,126.3 235.9,127.6 233.8,129.0 233.3,130.3 232.1,131.9 231.0,133.4 230.4,135.0 230.5,136.5 230.2,138.1 229.8,139.4 228.5,140.7 228.6,142.0 227.3,143.1 226.6,144.3 226.0,145.4 226.5,146.7 226.2,148.1 225.2,149.4 226.0,150.7 225.0,152.1 225.4,153.4 225.6,154.8 225.0,156.1 224.9,157.4 226.2,158.8 225.4,160.2 225.5,161.5 226.6,162.8 226.0,164.2 226.7,165.5 226.0,166.9 227.1,168.2 226.6,169.6 226.7,170.9 227.3,172.2 227.1,173.6 228.5,174.9 228.6,176.3 228.7,177.6 229.8,178.9 230.1,180.3 229.6,181.6 230.1,183.0 230.7,184.3 230.7,185.6 231.0,187.0 231.4,188.3 232.1,189.7 232.8,191.0 233.8,192.3 233.8,193.7 235.4,195.0 236.5,196.0 236.9,197.1 237.7,198.1 238.8,199.1 240.1,200.4 240.6,201.8 241.5,203.1 241.5,204.4 242.1,205.8 241.1,207.2 240.1,208.5 240.7,209.8 240.8,211.1 239.7,212.3 239.8,213.5 240.7,215.4 242.0,215.7 243.3,216.1 244.6,216.4 245.9,216.7 247.2,217.0 248.5,217.3 249.8,217.7 251.1,218.0 252.4,218.2 253.8,218.4 255.1,218.6 256.5,218.8 257.8,219.0 259.1,219.2 260.5,219.5 261.8,219.7 263.1,219.9 264.5,220.1 265.8,220.3 267.2,220.5 268.5,220.7 269.9,220.9 271.2,221.1 272.6,221.3 273.9,221.5 275.3,221.6 276.6,221.8 278.0,222.0 279.3,222.2 280.7,222.4 282.1,222.9 283.5,223.4 284.8,224.0 286.2,224.5 287.6,225.0 288.8,225.5 290.0,226.0 291.3,226.6 292.5,227.1 293.7,227.6 295.5,228.5 295.4,229.3 297.2,230.2 297.9,231.9 298.0,233.7 299.3,234.1 300.6,234.6 302.0,235.0 303.3,235.4 303.2,236.6 301.4,237.7 301.5,238.9 300.1,239.3 298.7,239.6 297.4,240.0 296.0,240.3 294.6,240.7 293.3,240.8 291.9,240.9 290.6,241.0 289.2,241.1 287.9,241.2 286.6,241.3 285.2,241.4 283.9,241.5 282.6,241.6 281.2,241.7 279.9,241.8 278.5,241.9 277.2,242.0 278.5,242.1 279.9,242.2 281.2,242.3 282.6,242.4 283.9,242.5 285.2,242.6 286.6,242.7 287.9,242.8 289.2,242.9 290.6,243.0 291.9,243.1 293.3,243.2 294.6,243.3 296.0,243.7 297.4,244.1 298.7,244.5 300.1,244.9 301.5,245.3 300.2,245.5 298.9,245.7 297.6,245.8 296.3,246.0 295.0,246.2 293.7,246.3 292.4,246.5 291.1,246.7 292.5,247.3 294.0,247.9 295.4,248.5 294.0,249.2 292.5,249.9 291.1,250.6 291.8,251.9 291.5,253.3 292.0,254.6 293.3,255.0 294.6,255.4 295.9,255.3 297.3,255.2 298.6,255.1 300.0,255.0 301.3,255.0 302.7,254.9 304.0,254.8 305.4,254.7 306.7,254.6 308.1,254.8 309.5,254.9 310.9,255.1 312.4,255.2 313.8,255.3 315.2,255.5 316.6,255.7 318.0,255.8" fill="none" stroke="#f01414" stroke-width="1.10" stroke-linejoin="round" stroke-linecap="round" clip-path="url(#cpC)"/>
<rect x="223.6" y="89.4" width="94.7" height="175.0" fill="none" stroke="#a6a6a6" stroke-width="1.00" />
<line x1="239.6" y1="264.4" x2="239.6" y2="267" stroke="#a6a6a6" stroke-width="1"/>
<text transform="translate(237.0 269.3) rotate(90)" font-size="9.6" fill="#0d0d0d">1400</text>
<line x1="265.7" y1="264.4" x2="265.7" y2="267" stroke="#a6a6a6" stroke-width="1"/>
<text transform="translate(263.1 269.3) rotate(90)" font-size="9.6" fill="#0d0d0d">1500</text>
<line x1="292.0" y1="264.4" x2="292.0" y2="267" stroke="#a6a6a6" stroke-width="1"/>
<text transform="translate(289.4 269.3) rotate(90)" font-size="9.6" fill="#0d0d0d">1600</text>
<line x1="318.1" y1="264.4" x2="318.1" y2="267" stroke="#a6a6a6" stroke-width="1"/>
<text transform="translate(315.5 269.3) rotate(90)" font-size="9.6" fill="#0d0d0d">1700</text>
<line x1="226.5" y1="264.4" x2="226.5" y2="266" stroke="#c8c8c8" stroke-width="0.8"/>
<line x1="252.6" y1="264.4" x2="252.6" y2="266" stroke="#c8c8c8" stroke-width="0.8"/>
<line x1="278.8" y1="264.4" x2="278.8" y2="266" stroke="#c8c8c8" stroke-width="0.8"/>
<line x1="305.0" y1="264.4" x2="305.0" y2="266" stroke="#c8c8c8" stroke-width="0.8"/>
<text x="211.7" y="282.7" font-size="12.0" font-weight="normal" text-anchor="start" fill="#0d0d0d" >m/s</text>
<text x="297.4" y="107.6" font-size="10.4" font-weight="bold" text-anchor="middle" fill="#000" >ct</text>
<text x="256.8" y="164.6" font-size="10.4" font-weight="bold" text-anchor="middle" fill="#000" >m</text>
<text x="303.8" y="225.6" font-size="10.4" font-weight="bold" text-anchor="middle" fill="#000" >ct</text>
<text x="262.6" y="258.7" font-size="10.4" font-weight="bold" text-anchor="middle" fill="#000" >s</text>
<clipPath id="clip2"><path d="M325.0,266.0 C325.3,264.7 325.7,263.2 327.0,258.0 C328.3,252.8 330.9,242.2 332.8,235.0 C334.7,227.8 336.4,221.5 338.1,215.0 C339.8,208.5 341.2,202.3 343.2,196.0 C345.1,189.7 348.1,182.3 349.8,177.1 C351.5,171.9 352.3,168.5 353.6,165.0 C354.9,161.5 356.1,159.0 357.4,156.0 C358.6,153.0 359.7,150.2 361.1,146.9 C362.5,143.6 364.2,139.6 365.7,136.3 C367.2,133.0 368.6,130.3 370.2,127.3 C371.8,124.3 373.7,121.0 375.5,118.2 C377.3,115.4 378.9,113.2 380.8,110.7 C382.7,108.2 384.8,105.4 386.8,103.1 C388.8,100.8 390.9,98.7 392.9,97.1 C394.9,95.5 396.8,94.5 398.9,93.7 C400.9,92.9 403.0,92.1 405.2,92.0 C407.4,91.9 410.0,92.6 412.1,93.3 C414.2,94.0 416.1,94.9 418.1,96.3 C420.1,97.7 422.2,99.5 424.2,101.6 C426.2,103.7 428.3,106.3 430.2,109.1 C432.1,111.9 433.9,115.2 435.5,118.2 C437.1,121.2 438.6,124.3 440.0,127.3 C441.4,130.3 442.7,133.3 443.8,136.3 C444.9,139.3 445.8,142.1 446.8,145.4 C447.8,148.7 448.9,152.7 449.8,156.0 C450.7,159.3 451.2,161.5 452.1,165.0 C453.0,168.5 453.8,171.9 455.1,177.1 C456.4,182.3 458.0,187.2 459.8,196.0 C461.6,204.8 464.1,218.9 466.2,230.0 C468.3,241.1 471.2,256.8 472.3,262.8 C473.4,268.8 472.7,265.5 472.8,266.0Z"/></clipPath>
<clipPath id="box2"><rect x="332.0" y="89.5" width="208.0" height="174.6"/></clipPath>
<rect x="332.0" y="89.5" width="208.0" height="174.6" fill="#000"/>
<g clip-path="url(#box2)">
<g clip-path="url(#clip2)">
<path d="M325.0,266.0 C325.3,264.7 325.7,263.2 327.0,258.0 C328.3,252.8 330.9,242.2 332.8,235.0 C334.7,227.8 336.4,221.5 338.1,215.0 C339.8,208.5 341.2,202.3 343.2,196.0 C345.1,189.7 348.1,182.3 349.8,177.1 C351.5,171.9 352.3,168.5 353.6,165.0 C354.9,161.5 356.1,159.0 357.4,156.0 C358.6,153.0 359.7,150.2 361.1,146.9 C362.5,143.6 364.2,139.6 365.7,136.3 C367.2,133.0 368.6,130.3 370.2,127.3 C371.8,124.3 373.7,121.0 375.5,118.2 C377.3,115.4 378.9,113.2 380.8,110.7 C382.7,108.2 384.8,105.4 386.8,103.1 C388.8,100.8 390.9,98.7 392.9,97.1 C394.9,95.5 396.8,94.5 398.9,93.7 C400.9,92.9 403.0,92.1 405.2,92.0 C407.4,91.9 410.0,92.6 412.1,93.3 C414.2,94.0 416.1,94.9 418.1,96.3 C420.1,97.7 422.2,99.5 424.2,101.6 C426.2,103.7 428.3,106.3 430.2,109.1 C432.1,111.9 433.9,115.2 435.5,118.2 C437.1,121.2 438.6,124.3 440.0,127.3 C441.4,130.3 442.7,133.3 443.8,136.3 C444.9,139.3 445.8,142.1 446.8,145.4 C447.8,148.7 448.9,152.7 449.8,156.0 C450.7,159.3 451.2,161.5 452.1,165.0 C453.0,168.5 453.8,171.9 455.1,177.1 C456.4,182.3 458.0,187.2 459.8,196.0 C461.6,204.8 464.1,218.9 466.2,230.0 C468.3,241.1 471.2,256.8 472.3,262.8 C473.4,268.8 472.7,265.5 472.8,266.0Z" fill="#7ef840"/>
<g filter="url(#grain)">
<path d="M325.0,266.0 C325.3,264.7 325.7,263.2 327.0,258.0 C328.3,252.8 330.9,242.2 332.8,235.0 C334.7,227.8 336.4,221.5 338.1,215.0 C339.8,208.5 341.2,202.3 343.2,196.0 C345.1,189.7 348.1,182.3 349.8,177.1 C351.5,171.9 352.3,168.5 353.6,165.0 C354.9,161.5 356.1,159.0 357.4,156.0 C358.6,153.0 359.7,150.2 361.1,146.9 C362.5,143.6 364.2,139.6 365.7,136.3 C367.2,133.0 368.6,130.3 370.2,127.3 C371.8,124.3 373.7,121.0 375.5,118.2 C377.3,115.4 378.9,113.2 380.8,110.7 C382.7,108.2 384.8,105.4 386.8,103.1 C388.8,100.8 390.9,98.7 392.9,97.1 C394.9,95.5 396.8,94.5 398.9,93.7 C400.9,92.9 403.0,92.1 405.2,92.0 C407.4,91.9 410.0,92.6 412.1,93.3 C414.2,94.0 416.1,94.9 418.1,96.3 C420.1,97.7 422.2,99.5 424.2,101.6 C426.2,103.7 428.3,106.3 430.2,109.1 C432.1,111.9 433.9,115.2 435.5,118.2 C437.1,121.2 438.6,124.3 440.0,127.3 C441.4,130.3 442.7,133.3 443.8,136.3 C444.9,139.3 445.8,142.1 446.8,145.4 C447.8,148.7 448.9,152.7 449.8,156.0 C450.7,159.3 451.2,161.5 452.1,165.0 C453.0,168.5 453.8,171.9 455.1,177.1 C456.4,182.3 458.0,187.2 459.8,196.0 C461.6,204.8 464.1,218.9 466.2,230.0 C468.3,241.1 471.2,256.8 472.3,262.8 C473.4,268.8 472.7,265.5 472.8,266.0Z" fill="#7ef840"/>
<g filter="url(#b2)"><path d="M405.2,106.0 C410.3,105.8 417.1,101.1 420.7,101.6 C424.3,102.1 424.8,106.3 426.7,109.1 C428.6,111.9 430.4,115.2 432.0,118.2 C433.6,121.2 435.1,124.3 436.5,127.3 C437.9,130.3 439.2,133.3 440.3,136.3 C441.4,139.3 442.3,142.1 443.3,145.4 C444.3,148.7 445.4,152.7 446.3,156.0 C447.2,159.3 447.7,161.5 448.6,165.0 C449.5,168.5 467.5,175.1 451.6,177.1 C435.7,179.1 369.1,179.1 353.3,177.1 C337.6,175.1 355.8,168.5 357.1,165.0 C358.4,161.5 359.6,159.0 360.9,156.0 C362.1,153.0 363.2,150.2 364.6,146.9 C366.0,143.6 367.7,139.6 369.2,136.3 C370.7,133.0 372.1,130.3 373.7,127.3 C375.3,124.3 377.2,121.0 379.0,118.2 C380.8,115.4 382.4,113.2 384.3,110.7 C386.2,108.2 386.8,103.9 390.3,103.1 C393.8,102.3 400.1,106.2 405.2,106.0Z" fill="#7af0f0" opacity="0.42"/></g>
<g filter="url(#b3)"><path d="M405.0,116.7 C409.2,116.2 411.7,117.9 415.1,119.7 C418.6,121.5 422.7,124.5 425.7,127.3 C428.7,130.1 430.9,133.0 433.2,136.3 C435.5,139.6 437.3,143.4 439.3,146.9 C441.3,150.4 443.8,154.5 445.3,157.5 C446.8,160.5 447.4,161.8 448.3,165.0 C449.2,168.2 449.9,173.5 451.0,177.0 C452.1,180.5 455.2,182.8 455.0,186.0 C454.8,189.2 452.5,193.4 450.0,195.9 C447.5,198.4 443.5,199.5 440.0,201.0 C436.5,202.5 432.9,203.8 429.1,205.0 C425.3,206.2 420.9,207.3 417.0,208.0 C413.1,208.7 409.5,208.9 405.7,208.9 C401.9,208.9 397.9,208.7 394.0,208.0 C390.1,207.3 386.0,206.2 382.2,205.0 C378.4,203.8 374.5,202.5 371.0,201.0 C367.5,199.5 364.7,198.4 361.3,195.9 C357.9,193.4 351.6,189.2 350.5,186.0 C349.4,182.8 353.2,180.5 354.5,177.0 C355.8,173.5 356.5,168.8 358.1,165.0 C359.7,161.2 362.2,157.9 364.2,154.4 C366.2,150.9 367.9,147.4 370.2,143.9 C372.5,140.4 374.5,136.8 377.8,133.3 C381.1,129.8 385.3,125.5 389.8,122.7 C394.3,119.9 400.8,117.2 405.0,116.7Z" fill="#7af0f0" opacity="1.00"/></g>
<g filter="url(#b7)"><ellipse cx="406.0" cy="153.0" rx="24.0" ry="40.0" fill="#5fa4ee" opacity="0.97"/></g>
<g filter="url(#nz2)"><ellipse cx="406.0" cy="151.0" rx="21.0" ry="34.0" fill="#2f62de" opacity="1.00"/></g>
<g filter="url(#b2)"><path d="M344.0,198.0 C347.2,192.0 350.7,197.7 352.0,204.0 C353.3,210.3 352.7,225.5 352.0,236.0 C351.3,246.5 352.0,261.8 348.0,267.0 C344.0,272.2 330.5,271.5 328.0,267.0 C325.5,262.5 330.3,251.5 333.0,240.0 C335.7,228.5 340.8,204.0 344.0,198.0Z" fill="#7eeee0" opacity="0.95"/></g>
<g filter="url(#b2)"><path d="M458.0,200.0 C456.3,199.7 453.7,202.3 452.0,206.0 C450.3,209.7 448.3,216.3 448.0,222.0 C447.7,227.7 449.2,232.5 450.0,240.0 C450.8,247.5 448.7,262.5 453.0,267.0 C457.3,271.5 473.2,272.2 476.0,267.0 C478.8,261.8 472.3,245.8 470.0,236.0 C467.7,226.2 464.0,214.0 462.0,208.0 C460.0,202.0 459.7,200.3 458.0,200.0Z" fill="#7eeee0" opacity="0.95"/></g>
<g filter="url(#b2)"><path d="M362.0,217.0 C364.3,214.0 366.0,215.5 366.0,218.0 C366.0,220.5 363.0,226.7 362.0,232.0 C361.0,237.3 360.5,244.2 360.0,250.0 C359.5,255.8 361.3,264.2 359.0,267.0 C356.7,269.8 347.8,269.8 346.0,267.0 C344.2,264.2 347.0,255.2 348.0,250.0 C349.0,244.8 349.7,241.5 352.0,236.0 C354.3,230.5 359.7,220.0 362.0,217.0Z" fill="#62b6f4" opacity="1.00"/></g>
<g filter="url(#b2)"><path d="M436.9,219.0 C437.4,216.3 439.3,216.8 441.0,220.0 C442.7,223.2 445.7,232.7 447.0,238.0 C448.3,243.3 448.3,247.2 449.0,252.0 C449.7,256.8 452.3,264.5 451.0,267.0 C449.7,269.5 442.8,269.8 441.0,267.0 C439.2,264.2 440.5,255.2 440.0,250.0 C439.5,244.8 438.5,241.2 438.0,236.0 C437.5,230.8 436.4,221.7 436.9,219.0Z" fill="#62b6f4" opacity="1.00"/></g>
<g filter="url(#b3)"><path d="M362.0,210.0 C362.7,205.8 367.0,206.0 370.0,207.0 C373.0,208.0 376.3,213.5 380.0,216.0 C383.7,218.5 387.7,220.7 392.0,222.0 C396.3,223.3 401.3,224.0 406.0,224.0 C410.7,224.0 416.0,223.3 420.0,222.0 C424.0,220.7 427.0,218.2 430.0,216.0 C433.0,213.8 435.7,209.3 438.0,209.0 C440.3,208.7 443.7,210.2 444.0,214.0 C444.3,217.8 440.7,223.2 440.0,232.0 C439.3,240.8 452.3,261.2 440.0,267.0 C427.7,272.8 378.3,272.8 366.0,267.0 C353.7,261.2 366.7,241.5 366.0,232.0 C365.3,222.5 361.3,214.2 362.0,210.0Z" fill="#c6f244" opacity="1.00"/></g>
<g filter="url(#b3)"><path d="M366.0,222.0 C367.3,218.7 372.0,219.0 376.0,220.0 C380.0,221.0 385.0,226.3 390.0,228.0 C395.0,229.7 400.7,230.0 406.0,230.0 C411.3,230.0 417.3,229.3 422.0,228.0 C426.7,226.7 431.3,221.3 434.0,222.0 C436.7,222.7 437.7,224.5 438.0,232.0 C438.3,239.5 447.0,261.2 436.0,267.0 C425.0,272.8 383.3,271.5 372.0,267.0 C360.7,262.5 369.0,247.5 368.0,240.0 C367.0,232.5 364.7,225.3 366.0,222.0Z" fill="#f0ee3a" opacity="0.92"/></g>
<g filter="url(#b2)"><ellipse cx="368.0" cy="212.0" rx="5.0" ry="5.0" fill="#f2e83a" opacity="0.90"/></g>
<g filter="url(#b2)"><ellipse cx="436.0" cy="214.0" rx="5.0" ry="5.0" fill="#f2e83a" opacity="0.90"/></g>
<g filter="url(#b3)"><ellipse cx="402.0" cy="246.0" rx="30.0" ry="10.0" fill="#f8cc32" opacity="0.85"/></g>
<g filter="url(#b2)"><ellipse cx="402.0" cy="256.0" rx="24.0" ry="5.0" fill="#f4a42c" opacity="0.80"/></g>
<g filter="url(#nz3)"><ellipse cx="402.0" cy="246.0" rx="30.0" ry="13.0" fill="#f07a2c" opacity="1.00"/></g>
</g>
<path d="M377.5,258.5 C378.0,256.8 379.9,256.7 382.0,256.5 C384.1,256.3 388.0,257.8 390.0,257.2 C392.0,256.6 392.9,253.3 394.0,253.2 C395.1,253.1 395.4,255.6 396.5,256.4 C397.6,257.2 399.0,258.0 400.5,258.0 C402.0,258.0 403.8,256.4 405.7,256.4 C407.6,256.4 410.7,257.0 412.0,258.0 C413.3,259.0 413.3,260.9 413.5,262.4 C413.7,263.9 418.8,266.2 413.0,267.0 C407.2,267.8 384.9,268.4 379.0,267.0 C373.1,265.6 377.0,260.2 377.5,258.5Z" fill="#84170f" opacity="1.00"/>
<path d="M363.0,235.0 C363.2,233.9 365.0,232.3 366.0,232.0 C367.0,231.7 368.6,232.7 369.0,233.4 C369.4,234.1 367.7,235.4 368.6,236.4 C369.5,237.4 374.2,238.7 374.4,239.6 C374.6,240.5 371.5,241.5 370.0,242.0 C368.5,242.5 366.3,242.9 365.4,242.4 C364.5,241.9 365.0,240.0 364.6,238.8 C364.2,237.6 362.8,236.1 363.0,235.0Z" fill="#000" opacity="1.00"/>
<path d="M373.0,239.0 L388.0,241.5 L412.0,241.0 L434.0,244.2" stroke="#2a52c8" stroke-width="1.1" stroke-dasharray="5 2 2 2" fill="none"/>
<ellipse cx="435.9" cy="236.0" rx="1.1" ry="1.7" fill="#000" opacity="1.00"/>
<path d="M431.5,245.0 C432.0,244.6 434.8,244.1 435.4,244.2 C436.0,244.3 435.5,244.8 435.2,245.8 C434.9,246.8 434.4,248.2 433.8,250.0 C433.2,251.8 432.4,255.6 431.8,256.6 C431.2,257.6 430.2,257.2 430.2,256.0 C430.2,254.8 431.6,251.2 432.0,249.6 C432.4,248.0 432.7,247.2 432.6,246.4 C432.5,245.6 431.0,245.4 431.5,245.0Z" fill="#000" opacity="1.00"/>
<ellipse cx="377.0" cy="230.5" rx="1.5" ry="1.0" fill="#e84020" opacity="1.00"/>
<ellipse cx="383.0" cy="246.0" rx="1.5" ry="1.0" fill="#e84020" opacity="1.00"/>
</g>
<path d="M325.0,266.0 C325.3,264.7 325.7,263.2 327.0,258.0 C328.3,252.8 330.9,242.2 332.8,235.0 C334.7,227.8 336.4,221.5 338.1,215.0 C339.8,208.5 341.2,202.3 343.2,196.0 C345.1,189.7 348.1,182.3 349.8,177.1 C351.5,171.9 352.3,168.5 353.6,165.0 C354.9,161.5 356.1,159.0 357.4,156.0 C358.6,153.0 359.7,150.2 361.1,146.9 C362.5,143.6 364.2,139.6 365.7,136.3 C367.2,133.0 368.6,130.3 370.2,127.3 C371.8,124.3 373.7,121.0 375.5,118.2 C377.3,115.4 378.9,113.2 380.8,110.7 C382.7,108.2 384.8,105.4 386.8,103.1 C388.8,100.8 390.9,98.7 392.9,97.1 C394.9,95.5 396.8,94.5 398.9,93.7 C400.9,92.9 403.0,92.1 405.2,92.0 C407.4,91.9 410.0,92.6 412.1,93.3 C414.2,94.0 416.1,94.9 418.1,96.3 C420.1,97.7 422.2,99.5 424.2,101.6 C426.2,103.7 428.3,106.3 430.2,109.1 C432.1,111.9 433.9,115.2 435.5,118.2 C437.1,121.2 438.6,124.3 440.0,127.3 C441.4,130.3 442.7,133.3 443.8,136.3 C444.9,139.3 445.8,142.1 446.8,145.4 C447.8,148.7 448.9,152.7 449.8,156.0 C450.7,159.3 451.2,161.5 452.1,165.0 C453.0,168.5 453.8,171.9 455.1,177.1 C456.4,182.3 458.0,187.2 459.8,196.0 C461.6,204.8 464.1,218.9 466.2,230.0 C468.3,241.1 471.2,256.8 472.3,262.8 C473.4,268.8 472.7,265.5 472.8,266.0Z" fill="none" stroke="#c8f048" stroke-width="1.2" opacity="0.90"/>
</g>
<rect x="404.4" y="89.4" width="1.6" height="174.8" fill="#f02a1e"/>
<rect x="332" y="163.4" width="172.2" height="2.0" fill="#0a14e6"/>
<rect x="504" y="92.8" width="72" height="167.3" fill="#fff"/>
<rect x="506.3" y="96.8" width="12.3" height="157.8" fill="url(#cbar)"/>
<text x="521.0" y="105.2" font-size="9.6" font-weight="normal" text-anchor="start" fill="#0d0d0d" >1300</text>
<text x="521.0" y="135.4" font-size="9.6" font-weight="normal" text-anchor="start" fill="#0d0d0d" >1390</text>
<text x="521.0" y="164.9" font-size="9.6" font-weight="normal" text-anchor="start" fill="#0d0d0d" >1480</text>
<text x="521.0" y="195.1" font-size="9.6" font-weight="normal" text-anchor="start" fill="#0d0d0d" >1570</text>
<text x="521.0" y="225.4" font-size="9.6" font-weight="normal" text-anchor="start" fill="#0d0d0d" >1660</text>
<text x="521.0" y="255.5" font-size="9.6" font-weight="normal" text-anchor="start" fill="#0d0d0d" >1750</text>
<text x="544.8" y="180.0" font-size="12.0" font-weight="normal" text-anchor="start" fill="#0d0d0d" >m/s</text>
<clipPath id="cpD1"><rect x="4.1" y="303.0" width="211.6" height="76.1"/></clipPath>
<rect x="62.5" y="320.2" width="94.5" height="57.6" fill="none" stroke="#a6a6a6" stroke-width="1.00" />
<polyline points="46.1,360.3 47.6,305.1 48.9,310.4 51.1,334.2 53.4,340.0 55.1,343.6 56.4,351.9 58.0,340.0 59.7,346.1 61.5,338.9 63.3,346.1 65.7,338.9 66.6,344.8 67.9,338.9 69.6,346.1 71.9,347.2 73.0,354.4 74.9,347.2 77.2,360.3 79.4,353.2 81.1,360.3 83.4,356.8 85.7,366.3 87.3,356.8 90.4,369.8 92.0,374.6 93.3,366.3 95.7,372.2 97.3,366.3 99.5,368.7 101.2,365.1 104.1,369.8 106.5,368.7 108.8,377.0 110.3,366.3 112.2,374.6 114.1,365.1 115.7,368.7 116.9,363.8 118.7,369.8 121.5,369.8 123.3,362.7 124.9,369.8 126.1,362.7 127.2,375.7 128.8,365.1 130.6,373.4 132.5,375.7 133.4,365.1 135.3,367.4 137.2,359.1 138.7,353.2 139.9,359.1 142.2,350.8 144.0,346.1 146.3,347.2 149.1,342.5 151.4,346.1 153.7,338.9 156.0,342.5 157.9,346.1 160.6,331.7 163.7,306.8 164.8,369.8" fill="none" stroke="#5cf23c" stroke-width="1.20" stroke-linejoin="round" stroke-linecap="round" clip-path="url(#cpD1)"/>
<rect x="4.1" y="303.0" width="211.6" height="76.1" fill="none" stroke="#a6a6a6" stroke-width="1.00" />
<line x1="215.7" y1="312.0" x2="218.5" y2="312.0" stroke="#a6a6a6" stroke-width="1"/>
<text x="220.7" y="315.4" font-size="9.6" font-weight="normal" text-anchor="start" fill="#0d0d0d" >1.00</text>
<line x1="215.7" y1="331.0" x2="218.5" y2="331.0" stroke="#a6a6a6" stroke-width="1"/>
<text x="220.7" y="334.4" font-size="9.6" font-weight="normal" text-anchor="start" fill="#0d0d0d" >0.98</text>
<line x1="215.7" y1="350.3" x2="218.5" y2="350.3" stroke="#a6a6a6" stroke-width="1"/>
<text x="220.7" y="353.7" font-size="9.6" font-weight="normal" text-anchor="start" fill="#0d0d0d" >0.96</text>
<line x1="215.7" y1="369.4" x2="218.5" y2="369.4" stroke="#a6a6a6" stroke-width="1"/>
<text x="220.7" y="372.8" font-size="9.6" font-weight="normal" text-anchor="start" fill="#0d0d0d" >0.94</text>
<line x1="27.6" y1="379.1" x2="27.6" y2="380.6" stroke="#d0d0d0" stroke-width="0.8"/>
<line x1="51.1" y1="379.1" x2="51.1" y2="380.6" stroke="#d0d0d0" stroke-width="0.8"/>
<line x1="74.6" y1="379.1" x2="74.6" y2="380.6" stroke="#d0d0d0" stroke-width="0.8"/>
<line x1="98.1" y1="379.1" x2="98.1" y2="380.6" stroke="#d0d0d0" stroke-width="0.8"/>
<line x1="121.7" y1="379.1" x2="121.7" y2="380.6" stroke="#d0d0d0" stroke-width="0.8"/>
<line x1="145.2" y1="379.1" x2="145.2" y2="380.6" stroke="#d0d0d0" stroke-width="0.8"/>
<line x1="168.7" y1="379.1" x2="168.7" y2="380.6" stroke="#d0d0d0" stroke-width="0.8"/>
<line x1="192.2" y1="379.1" x2="192.2" y2="380.6" stroke="#d0d0d0" stroke-width="0.8"/>
<text x="181.2" y="338.0" font-size="12.0" text-anchor="start" fill="#0d0d0d">g/cm<tspan font-size="6.6" dy="-5.5">3</tspan></text>
<text x="109.7" y="335.3" font-size="10.4" font-weight="bold" text-anchor="middle" fill="#000" >m</text>
<clipPath id="cpD2"><rect x="334.2" y="302.7" width="211.8" height="76.4"/></clipPath>
<rect x="365.0" y="319.9" width="83.7" height="56.0" fill="none" stroke="#a6a6a6" stroke-width="1.00" />
<polyline points="354.4,353.3 355.4,302.5 357.0,301.9 358.2,330.7 359.0,341.2 360.7,343.2 363.3,343.7 364.6,340.1 365.4,346.4 367.2,349.5 369.3,346.4 371.5,349.5 373.5,352.6 375.6,349.5 376.8,355.8 378.9,354.1 380.9,356.8 382.5,353.7 384.2,361.0 386.4,358.9 388.5,362.0 390.1,361.0 392.3,369.3 393.8,371.4 394.8,364.1 396.6,370.4 398.7,368.3 401.7,369.3 404.4,373.5 406.6,370.4 409.3,371.4 411.9,368.3 414.4,372.5 416.2,368.3 418.7,375.6 420.1,369.3 422.6,370.4 425.2,368.3 426.8,366.2 427.9,368.3 429.3,361.0 431.5,359.9 433.2,361.0 435.4,357.9 437.1,354.7 439.1,357.9 441.3,352.6 442.8,353.7 445.0,349.5 446.4,346.4 447.7,347.8 449.9,338.0 451.3,342.2 453.4,324.5 454.6,302.5 455.4,302.5 456.2,363.1" fill="none" stroke="#1414f0" stroke-width="1.50" stroke-linejoin="round" stroke-linecap="round" clip-path="url(#cpD2)"/>
<rect x="334.2" y="302.7" width="211.8" height="76.4" fill="none" stroke="#a6a6a6" stroke-width="1.00" />
<line x1="546.0" y1="311.5" x2="548.8" y2="311.5" stroke="#a6a6a6" stroke-width="1"/>
<text x="551.0" y="314.9" font-size="9.6" font-weight="normal" text-anchor="start" fill="#0d0d0d" >1.00</text>
<line x1="546.0" y1="330.7" x2="548.8" y2="330.7" stroke="#a6a6a6" stroke-width="1"/>
<text x="551.0" y="334.1" font-size="9.6" font-weight="normal" text-anchor="start" fill="#0d0d0d" >0.98</text>
<line x1="546.0" y1="349.7" x2="548.8" y2="349.7" stroke="#a6a6a6" stroke-width="1"/>
<text x="551.0" y="353.1" font-size="9.6" font-weight="normal" text-anchor="start" fill="#0d0d0d" >0.96</text>
<line x1="546.0" y1="368.9" x2="548.8" y2="368.9" stroke="#a6a6a6" stroke-width="1"/>
<text x="551.0" y="372.3" font-size="9.6" font-weight="normal" text-anchor="start" fill="#0d0d0d" >0.94</text>
<line x1="357.7" y1="379.1" x2="357.7" y2="380.6" stroke="#d0d0d0" stroke-width="0.8"/>
<line x1="381.3" y1="379.1" x2="381.3" y2="380.6" stroke="#d0d0d0" stroke-width="0.8"/>
<line x1="404.8" y1="379.1" x2="404.8" y2="380.6" stroke="#d0d0d0" stroke-width="0.8"/>
<line x1="428.3" y1="379.1" x2="428.3" y2="380.6" stroke="#d0d0d0" stroke-width="0.8"/>
<line x1="451.9" y1="379.1" x2="451.9" y2="380.6" stroke="#d0d0d0" stroke-width="0.8"/>
<line x1="475.4" y1="379.1" x2="475.4" y2="380.6" stroke="#d0d0d0" stroke-width="0.8"/>
<line x1="498.9" y1="379.1" x2="498.9" y2="380.6" stroke="#d0d0d0" stroke-width="0.8"/>
<line x1="522.5" y1="379.1" x2="522.5" y2="380.6" stroke="#d0d0d0" stroke-width="0.8"/>
<text x="512.1" y="337.5" font-size="12.0" text-anchor="start" fill="#0d0d0d">g/cm<tspan font-size="6.6" dy="-5.5">3</tspan></text>
<text x="406.9" y="335.7" font-size="10.4" font-weight="bold" text-anchor="middle" fill="#000" >m</text>
<rect x="261.7" y="304.0" width="54.0" height="51.3" fill="#fff" stroke="#555" stroke-width="1.30" />
<line x1="267.8" y1="319" x2="278.3" y2="319" stroke="#5cf23c" stroke-width="1.3"/>
<line x1="267.8" y1="341" x2="278.3" y2="341" stroke="#1414f0" stroke-width="1.3"/>
<text x="283.5" y="322.7" font-size="12.5" font-weight="normal" text-anchor="start" fill="#0d0d0d" >live</text>
<text x="283.5" y="344.8" font-size="12.5" font-weight="normal" text-anchor="start" fill="#0d0d0d" >dead</text>
<clipPath id="clip3"><path d="M12.3,564.5 C13.6,560.7 17.3,549.3 19.8,541.5 C22.3,533.7 24.9,524.4 27.1,517.5 C29.3,510.6 31.4,504.7 33.0,500.0 C34.6,495.3 35.4,492.7 36.6,489.1 C37.8,485.5 39.1,481.8 40.4,478.5 C41.7,475.2 43.0,472.5 44.2,469.5 C45.5,466.5 46.5,463.4 47.9,460.4 C49.3,457.4 51.0,454.2 52.5,451.3 C54.0,448.4 55.4,445.9 57.0,443.0 C58.6,440.1 60.4,437.0 62.3,434.0 C64.2,431.0 66.3,427.8 68.3,424.9 C70.3,422.0 72.4,419.2 74.4,416.6 C76.4,414.0 78.1,411.9 80.4,409.1 C82.7,406.3 85.7,402.0 88.1,399.6 C90.5,397.2 92.7,396.1 95.0,394.7 C97.3,393.3 99.5,392.2 102.0,391.3 C104.5,390.4 107.5,389.4 110.0,389.2 C112.5,389.0 114.9,389.9 117.3,390.4 C119.7,390.9 122.0,391.1 124.5,392.2 C127.0,393.3 129.8,394.9 132.1,396.8 C134.4,398.7 136.2,401.2 138.1,403.6 C140.0,406.0 141.6,408.5 143.4,411.1 C145.2,413.7 147.1,416.6 148.7,419.4 C150.3,422.2 151.8,424.9 153.2,427.8 C154.6,430.7 155.7,433.8 157.0,436.8 C158.3,439.8 159.7,442.9 160.8,445.9 C161.9,448.9 163.1,452.4 163.8,454.9 C164.6,457.4 164.7,458.5 165.3,461.0 C165.9,463.5 167.0,467.0 167.6,470.0 C168.2,473.0 168.6,474.9 169.1,479.1 C169.6,483.3 169.8,487.4 170.4,495.0 C171.0,502.6 171.8,513.4 172.5,525.0 C173.2,536.6 174.1,557.9 174.4,564.5Z"/></clipPath>
<clipPath id="box3"><rect x="3.9" y="389.1" width="211.4" height="177.8"/></clipPath>
<rect x="3.9" y="389.1" width="211.4" height="177.8" fill="#000"/>
<g clip-path="url(#box3)">
<g clip-path="url(#clip3)">
<path d="M12.3,564.5 C13.6,560.7 17.3,549.3 19.8,541.5 C22.3,533.7 24.9,524.4 27.1,517.5 C29.3,510.6 31.4,504.7 33.0,500.0 C34.6,495.3 35.4,492.7 36.6,489.1 C37.8,485.5 39.1,481.8 40.4,478.5 C41.7,475.2 43.0,472.5 44.2,469.5 C45.5,466.5 46.5,463.4 47.9,460.4 C49.3,457.4 51.0,454.2 52.5,451.3 C54.0,448.4 55.4,445.9 57.0,443.0 C58.6,440.1 60.4,437.0 62.3,434.0 C64.2,431.0 66.3,427.8 68.3,424.9 C70.3,422.0 72.4,419.2 74.4,416.6 C76.4,414.0 78.1,411.9 80.4,409.1 C82.7,406.3 85.7,402.0 88.1,399.6 C90.5,397.2 92.7,396.1 95.0,394.7 C97.3,393.3 99.5,392.2 102.0,391.3 C104.5,390.4 107.5,389.4 110.0,389.2 C112.5,389.0 114.9,389.9 117.3,390.4 C119.7,390.9 122.0,391.1 124.5,392.2 C127.0,393.3 129.8,394.9 132.1,396.8 C134.4,398.7 136.2,401.2 138.1,403.6 C140.0,406.0 141.6,408.5 143.4,411.1 C145.2,413.7 147.1,416.6 148.7,419.4 C150.3,422.2 151.8,424.9 153.2,427.8 C154.6,430.7 155.7,433.8 157.0,436.8 C158.3,439.8 159.7,442.9 160.8,445.9 C161.9,448.9 163.1,452.4 163.8,454.9 C164.6,457.4 164.7,458.5 165.3,461.0 C165.9,463.5 167.0,467.0 167.6,470.0 C168.2,473.0 168.6,474.9 169.1,479.1 C169.6,483.3 169.8,487.4 170.4,495.0 C171.0,502.6 171.8,513.4 172.5,525.0 C173.2,536.6 174.1,557.9 174.4,564.5Z" fill="#7ef840"/>
<g filter="url(#grain)">
<path d="M12.3,564.5 C13.6,560.7 17.3,549.3 19.8,541.5 C22.3,533.7 24.9,524.4 27.1,517.5 C29.3,510.6 31.4,504.7 33.0,500.0 C34.6,495.3 35.4,492.7 36.6,489.1 C37.8,485.5 39.1,481.8 40.4,478.5 C41.7,475.2 43.0,472.5 44.2,469.5 C45.5,466.5 46.5,463.4 47.9,460.4 C49.3,457.4 51.0,454.2 52.5,451.3 C54.0,448.4 55.4,445.9 57.0,443.0 C58.6,440.1 60.4,437.0 62.3,434.0 C64.2,431.0 66.3,427.8 68.3,424.9 C70.3,422.0 72.4,419.2 74.4,416.6 C76.4,414.0 78.1,411.9 80.4,409.1 C82.7,406.3 85.7,402.0 88.1,399.6 C90.5,397.2 92.7,396.1 95.0,394.7 C97.3,393.3 99.5,392.2 102.0,391.3 C104.5,390.4 107.5,389.4 110.0,389.2 C112.5,389.0 114.9,389.9 117.3,390.4 C119.7,390.9 122.0,391.1 124.5,392.2 C127.0,393.3 129.8,394.9 132.1,396.8 C134.4,398.7 136.2,401.2 138.1,403.6 C140.0,406.0 141.6,408.5 143.4,411.1 C145.2,413.7 147.1,416.6 148.7,419.4 C150.3,422.2 151.8,424.9 153.2,427.8 C154.6,430.7 155.7,433.8 157.0,436.8 C158.3,439.8 159.7,442.9 160.8,445.9 C161.9,448.9 163.1,452.4 163.8,454.9 C164.6,457.4 164.7,458.5 165.3,461.0 C165.9,463.5 167.0,467.0 167.6,470.0 C168.2,473.0 168.6,474.9 169.1,479.1 C169.6,483.3 169.8,487.4 170.4,495.0 C171.0,502.6 171.8,513.4 172.5,525.0 C173.2,536.6 174.1,557.9 174.4,564.5Z" fill="#7ef840"/>
<g filter="url(#b2)"><path d="M110.0,400.2 C115.8,399.7 123.7,396.2 127.6,396.8 C131.5,397.4 131.7,401.2 133.6,403.6 C135.5,406.0 137.1,408.5 138.9,411.1 C140.7,413.7 142.6,416.6 144.2,419.4 C145.8,422.2 147.3,424.9 148.7,427.8 C150.1,430.7 151.2,433.8 152.5,436.8 C153.8,439.8 155.2,442.9 156.3,445.9 C157.4,448.9 158.6,452.4 159.3,454.9 C160.1,457.4 160.2,458.5 160.8,461.0 C161.4,463.5 162.5,467.0 163.1,470.0 C163.7,473.0 184.9,475.9 164.6,479.1 C144.3,482.3 61.0,489.2 41.1,489.1 C21.2,489.0 43.6,481.8 44.9,478.5 C46.2,475.2 47.5,472.5 48.7,469.5 C50.0,466.5 51.0,463.4 52.4,460.4 C53.8,457.4 55.5,454.2 57.0,451.3 C58.5,448.4 59.9,445.9 61.5,443.0 C63.1,440.1 64.9,437.0 66.8,434.0 C68.7,431.0 70.8,427.8 72.8,424.9 C74.8,422.0 76.9,419.2 78.9,416.6 C80.9,414.0 82.6,411.9 84.9,409.1 C87.2,406.3 88.4,401.1 92.6,399.6 C96.8,398.1 104.2,400.7 110.0,400.2Z" fill="#7af0f0" opacity="0.42"/></g>
<g filter="url(#b25)"><path d="M110.0,406.7 C117.0,406.4 124.0,407.5 130.0,410.7 C136.0,413.9 141.6,420.2 145.9,425.9 C150.2,431.6 153.2,438.0 155.9,445.0 C158.6,452.0 160.4,461.0 161.9,468.0 C163.4,475.0 165.1,481.3 164.9,487.0 C164.7,492.7 163.3,497.9 160.7,502.4 C158.1,506.9 154.3,510.2 149.2,513.9 C144.1,517.5 136.4,522.3 130.0,524.6 C123.6,526.8 117.4,527.5 111.0,527.3 C104.6,527.1 98.2,526.4 91.8,523.5 C85.4,520.6 78.4,514.8 72.7,510.0 C67.0,505.2 62.0,499.3 57.4,494.8 C52.8,490.3 46.3,487.7 44.9,483.3 C43.5,478.8 46.9,473.7 48.9,468.0 C50.9,462.2 53.6,455.3 56.9,448.9 C60.2,442.5 63.7,435.8 68.9,429.7 C74.1,423.6 81.2,416.1 88.0,412.2 C94.8,408.4 103.0,406.9 110.0,406.7Z" fill="#7af0f0" opacity="1.00"/></g>
<g filter="url(#b5)"><ellipse cx="111.8" cy="469.0" rx="35.0" ry="51.7" fill="#5a9eec" opacity="0.97"/></g>
<g filter="url(#nz)"><ellipse cx="111.8" cy="468.0" rx="33.0" ry="49.6" fill="#2f62de" opacity="1.00"/></g>
<g filter="url(#b2)"><path d="M36.4,495.3 C39.0,490.9 44.5,494.3 45.9,499.4 C47.3,504.4 45.6,517.3 44.9,525.7 C44.1,534.1 42.4,543.1 41.4,550.0 C40.4,556.9 42.7,564.4 38.9,567.2 C35.1,570.1 21.0,571.0 18.4,567.2 C15.8,563.5 21.4,551.9 23.4,545.0 C25.3,538.0 27.9,534.0 30.1,525.7 C32.3,517.4 33.8,499.7 36.4,495.3Z" fill="#7eeedc" opacity="0.95"/></g>
<g filter="url(#b2)"><path d="M157.4,513.5 C159.1,508.0 162.6,504.6 164.4,506.5 C166.2,508.3 167.4,514.6 168.4,524.7 C169.4,534.8 172.7,560.1 170.4,567.2 C168.1,574.3 157.1,571.8 154.4,567.2 C151.7,562.7 153.9,548.8 154.4,539.9 C154.9,530.9 155.7,519.1 157.4,513.5Z" fill="#7eeedc" opacity="0.95"/></g>
<g filter="url(#b3)"><path d="M59.4,514.6 C61.1,511.5 63.6,510.8 66.4,511.5 C69.2,512.2 72.4,516.2 76.4,518.6 C80.4,521.0 84.7,523.8 90.4,525.7 C96.1,527.6 104.4,529.6 110.4,529.8 C116.4,529.9 122.4,527.7 126.4,526.7 C130.4,525.7 132.1,523.0 134.4,523.7 C136.7,524.4 139.7,527.2 140.4,530.8 C141.1,534.3 139.1,538.9 138.4,545.0 C137.7,551.0 149.1,563.5 136.4,567.2 C123.7,571.0 75.4,571.0 62.4,567.2 C49.4,563.5 59.4,551.2 58.4,545.0 C57.4,538.7 56.2,534.8 56.4,529.8 C56.6,524.7 57.7,517.6 59.4,514.6Z" fill="#c6f244" opacity="1.00"/></g>
<g filter="url(#b3)"><path d="M62.4,520.6 C64.1,518.6 67.4,517.3 70.4,518.6 C73.4,520.0 76.1,525.7 80.4,528.7 C84.7,531.8 91.1,534.8 96.4,536.8 C101.7,538.9 107.4,540.6 112.4,540.9 C117.4,541.2 123.1,538.2 126.4,538.9 C129.7,539.5 131.7,540.2 132.4,545.0 C133.1,549.7 141.4,563.5 130.4,567.2 C119.4,571.0 77.7,571.1 66.4,567.2 C55.1,563.4 63.4,550.0 62.4,543.9 C61.4,537.9 60.4,534.7 60.4,530.8 C60.4,526.9 60.7,522.7 62.4,520.6Z" fill="#e8f03e" opacity="0.48"/></g>
<g filter="url(#b3)"><ellipse cx="68.4" cy="530.8" rx="7.0" ry="10.1" fill="#eef03c" opacity="0.70"/></g>
<g filter="url(#b3)"><ellipse cx="88.4" cy="554.1" rx="22.0" ry="7.1" fill="#f8dc34" opacity="0.80"/></g>
<g filter="url(#b2)"><ellipse cx="115.4" cy="560.1" rx="7.0" ry="3.5" fill="#f6b42e" opacity="0.50"/></g>
<g filter="url(#b2)"><path d="M52.4,516.6 C53.4,513.7 56.0,515.4 56.9,518.6 C57.8,521.8 58.1,530.6 57.9,535.8 C57.6,541.1 56.2,544.8 55.4,550.0 C54.6,555.2 55.1,564.4 53.2,567.2 C51.3,570.1 44.9,570.1 43.9,567.2 C42.9,564.4 46.2,555.2 47.4,550.0 C48.6,544.8 50.1,541.4 50.9,535.8 C51.7,530.3 51.4,519.5 52.4,516.6Z" fill="#64c6f4" opacity="1.00"/></g>
<g filter="url(#b2)"><path d="M142.4,517.6 C143.9,514.9 145.4,516.6 146.4,519.6 C147.4,522.7 148.3,530.8 148.4,535.8 C148.5,540.9 147.3,544.8 146.9,550.0 C146.5,555.2 148.6,564.4 146.0,567.2 C143.4,570.1 133.5,570.1 131.4,567.2 C129.3,564.4 132.4,555.2 133.4,550.0 C134.4,544.8 135.9,541.2 137.4,535.8 C138.9,530.4 140.9,520.3 142.4,517.6Z" fill="#62c2f6" opacity="1.00"/></g>
</g>
<g filter="url(#b2)"><path d="M70.4,551.0 C70.8,549.2 74.6,548.2 76.9,548.0 C79.2,547.7 82.2,548.9 84.4,549.5 C86.7,550.1 88.4,551.7 90.4,551.7 C92.4,551.8 94.7,550.1 96.4,550.0 C98.1,549.9 99.0,550.6 100.4,551.0 C101.8,551.5 103.6,551.8 104.8,552.8 C106.1,553.7 107.3,554.4 107.9,556.6 C108.5,558.8 113.5,564.6 108.4,566.2 C103.3,567.8 83.1,567.4 77.4,566.2 C71.7,565.0 75.6,561.7 74.4,559.1 C73.2,556.6 70.0,552.9 70.4,551.0Z" fill="#f07a26" opacity="0.90"/></g>
<path d="M70.4,551.0 C70.8,549.2 74.6,548.2 76.9,548.0 C79.2,547.7 82.2,548.9 84.4,549.5 C86.7,550.1 88.4,551.7 90.4,551.7 C92.4,551.8 94.7,550.1 96.4,550.0 C98.1,549.9 99.0,550.6 100.4,551.0 C101.8,551.5 103.6,551.8 104.8,552.8 C106.1,553.7 107.3,554.4 107.9,556.6 C108.5,558.8 113.5,564.6 108.4,566.2 C103.3,567.8 83.1,567.4 77.4,566.2 C71.7,565.0 75.6,561.7 74.4,559.1 C73.2,556.6 70.0,552.9 70.4,551.0Z" fill="#84170f" opacity="1.00"/>
<ellipse cx="67.9" cy="517.1" rx="2.0" ry="1.5" fill="#000" opacity="1.00"/>
<ellipse cx="65.9" cy="522.2" rx="1.0" ry="1.2" fill="#000" opacity="1.00"/>
<path d="M63.9,525.7 C64.3,524.9 64.9,524.8 65.4,525.2 C65.9,525.6 66.1,527.3 66.9,528.2 C67.7,529.2 68.8,529.9 70.4,530.8 C72.0,531.6 74.1,532.4 76.4,533.2 C78.7,534.0 81.4,534.9 84.4,535.8 C87.4,536.8 94.4,538.7 94.4,538.9 C94.4,539.1 87.6,537.6 84.4,537.0 C81.2,536.5 78.0,536.0 75.4,535.8 C72.8,535.7 70.7,536.4 68.9,536.0 C67.1,535.7 65.4,534.9 64.4,533.8 C63.5,532.8 63.3,531.1 63.2,529.8 C63.1,528.4 63.5,526.5 63.9,525.7Z" fill="#000" opacity="1.00"/>
<ellipse cx="95.9" cy="546.0" rx="1.5" ry="1.2" fill="#1030c0" opacity="1.00"/>
<ellipse cx="91.4" cy="544.4" rx="1.1" ry="1.1" fill="#e84020" opacity="1.00"/>
<line x1="110.4" y1="536.8" x2="118.4" y2="536.8" stroke="#8eeed0" stroke-width="1"/>
<line x1="110.4" y1="539.4" x2="118.4" y2="539.4" stroke="#8eeed0" stroke-width="1"/>
<line x1="110.4" y1="541.9" x2="118.4" y2="541.9" stroke="#8eeed0" stroke-width="1"/>
</g>
<path d="M12.3,564.5 C13.6,560.7 17.3,549.3 19.8,541.5 C22.3,533.7 24.9,524.4 27.1,517.5 C29.3,510.6 31.4,504.7 33.0,500.0 C34.6,495.3 35.4,492.7 36.6,489.1 C37.8,485.5 39.1,481.8 40.4,478.5 C41.7,475.2 43.0,472.5 44.2,469.5 C45.5,466.5 46.5,463.4 47.9,460.4 C49.3,457.4 51.0,454.2 52.5,451.3 C54.0,448.4 55.4,445.9 57.0,443.0 C58.6,440.1 60.4,437.0 62.3,434.0 C64.2,431.0 66.3,427.8 68.3,424.9 C70.3,422.0 72.4,419.2 74.4,416.6 C76.4,414.0 78.1,411.9 80.4,409.1 C82.7,406.3 85.7,402.0 88.1,399.6 C90.5,397.2 92.7,396.1 95.0,394.7 C97.3,393.3 99.5,392.2 102.0,391.3 C104.5,390.4 107.5,389.4 110.0,389.2 C112.5,389.0 114.9,389.9 117.3,390.4 C119.7,390.9 122.0,391.1 124.5,392.2 C127.0,393.3 129.8,394.9 132.1,396.8 C134.4,398.7 136.2,401.2 138.1,403.6 C140.0,406.0 141.6,408.5 143.4,411.1 C145.2,413.7 147.1,416.6 148.7,419.4 C150.3,422.2 151.8,424.9 153.2,427.8 C154.6,430.7 155.7,433.8 157.0,436.8 C158.3,439.8 159.7,442.9 160.8,445.9 C161.9,448.9 163.1,452.4 163.8,454.9 C164.6,457.4 164.7,458.5 165.3,461.0 C165.9,463.5 167.0,467.0 167.6,470.0 C168.2,473.0 168.6,474.9 169.1,479.1 C169.6,483.3 169.8,487.4 170.4,495.0 C171.0,502.6 171.8,513.4 172.5,525.0 C173.2,536.6 174.1,557.9 174.4,564.5Z" fill="none" stroke="#1c3cf0" stroke-width="1.1" opacity="0.85"/>
</g>
<rect x="3.9" y="564.4" width="176.2" height="2.5" fill="#000"/>
<rect x="108.2" y="389.1" width="2.3" height="177.8" fill="#000"/>
<rect x="3.8" y="459.8" width="211.5" height="1.9" fill="#7ef23e"/>
<rect x="108.2" y="459.8" width="2.3" height="1.9" fill="#c8f040"/>
<rect x="180" y="522.4" width="45.4" height="38.4" fill="#fff"/>
<line x1="182.2" y1="528.7" x2="190.9" y2="528.7" stroke="#111" stroke-width="1.6"/>
<line x1="182.2" y1="553" x2="190.9" y2="553" stroke="#f01818" stroke-width="1.6"/>
<text x="195.6" y="533.4" font-size="12.8" font-weight="normal" text-anchor="start" fill="#0d0d0d" >live</text>
<text x="194.9" y="557.0" font-size="12.8" font-weight="normal" text-anchor="start" fill="#0d0d0d" >dead</text>
<text x="4.4" y="591.6" font-size="23.8" font-weight="bold" text-anchor="start" fill="#000" >D</text>
<text x="187.9" y="585.6" font-size="12.0" text-anchor="start" fill="#0d0d0d">g/cm<tspan font-size="6.6" dy="-5.5">3</tspan></text>
<clipPath id="cpD"><rect x="225.6" y="389" width="97.3" height="178.2"/></clipPath>
<rect x="247.4" y="396.7" width="68.4" height="18.4" fill="none" stroke="#a6a6a6" stroke-width="1.00" />
<rect x="243.8" y="415.9" width="45.3" height="103.7" fill="none" stroke="#a6a6a6" stroke-width="1.00" />
<rect x="249.8" y="520.3" width="73.0" height="20.7" fill="none" stroke="#a6a6a6" stroke-width="1.00" />
<rect x="255.5" y="545.2" width="67.3" height="21.8" fill="none" stroke="#a6a6a6" stroke-width="1.00" />
<polyline points="238.0,392.8 259.8,393.7 278.9,395.4 285.0,397.2 286.7,398.9 285.0,402.4 282.4,405.0 282.4,407.6 275.4,410.2 273.7,411.4 278.9,412.0 273.7,413.7 266.7,415.4 259.8,417.2 261.5,418.9 257.2,421.5 253.7,425.0 252.8,428.1 254.6,429.9 246.7,431.6 248.5,432.8 253.7,434.6 255.4,437.2 252.8,439.8 261.5,441.0 252.8,442.9 257.1,446.4 250.0,448.6 247.1,451.4 251.4,453.5 247.1,455.0 257.8,457.8 251.4,460.7 247.1,462.8 257.1,465.7 252.1,468.5 257.1,470.6 252.8,472.1 257.1,473.9 247.1,476.8 251.4,477.8 247.1,479.9 255.7,482.1 247.8,484.2 254.2,487.0 251.4,489.2 256.4,490.6 249.2,492.8 252.1,494.9 255.7,497.0 258.5,498.5 252.8,500.6 257.8,502.7 252.1,504.9 261.4,507.0 250.7,509.9 259.9,512.0 252.8,514.1 257.1,515.6 252.8,517.7 258.5,519.1 260.3,521.3 262.7,522.5 263.5,525.7 271.3,528.8 282.3,532.7 291.6,535.4 302.6,536.9 308.9,538.2 294.8,539.3 274.4,540.1 291.6,541.6 272.9,542.9 291.6,543.7 305.7,544.1 322.2,545.2 315.1,547.6 321.4,549.1 315.1,551.0 319.8,552.3 315.1,553.8 321.4,556.2" fill="none" stroke="#111" stroke-width="1.10" stroke-linejoin="round" stroke-linecap="round" clip-path="url(#cpD)"/>
<polyline points="314.3,565.6 315.9,564.5 322.2,564.3" fill="none" stroke="#111" stroke-width="1.10" stroke-linejoin="round" stroke-linecap="round" clip-path="url(#cpD)"/>
<polyline points="238.0,392.3 239.3,392.3 240.6,392.3 241.9,392.4 243.2,392.4 244.5,392.4 245.8,392.4 247.1,392.4 248.5,392.4 249.8,392.4 251.1,392.5 252.4,392.5 253.7,392.5 255.0,392.5 256.3,392.5 257.6,392.6 258.9,392.6 260.2,392.6 261.5,392.6 262.8,392.6 264.1,392.6 265.4,392.7 266.7,392.7 268.1,392.7 269.4,392.7 270.7,392.7 272.0,392.7 273.3,392.8 274.6,392.8 275.9,392.8 277.2,392.8 278.5,392.8 279.9,392.8 281.2,392.8 282.6,392.8 283.9,392.8 285.2,392.8 286.6,392.8 287.9,392.8 289.3,392.8 290.6,392.8 291.9,392.8 293.3,392.8 294.6,392.8 296.0,392.8 297.3,392.8 298.7,392.8 300.0,392.8 301.3,392.8 302.7,392.8 304.0,392.8 305.4,392.8 306.7,392.8 308.1,393.1 309.5,393.4 310.9,393.7 312.4,394.0 313.8,394.2 315.2,394.5 316.6,394.8 318.0,395.1 316.7,395.2 315.3,395.3 314.0,395.3 312.7,395.4 311.3,395.5 310.0,395.6 308.7,395.7 307.3,395.7 306.0,395.8 304.7,395.9 303.3,396.0 302.0,396.1 300.7,396.1 299.3,396.2 298.0,396.3 296.6,396.4 295.1,396.6 293.6,396.8 292.2,396.9 290.8,397.1 289.3,397.2 289.5,398.5 289.6,399.8 289.5,401.1 290.2,402.4 290.4,403.8 288.9,405.3 289.3,406.7 288.2,407.6 287.6,408.4 285.9,409.3 285.7,410.6 286.7,412.0 285.5,412.5 284.3,413.0 283.1,413.6 281.9,414.1 280.7,414.6 279.2,415.0 277.8,415.5 276.4,415.9 274.9,416.3 273.4,416.8 272.0,417.2 270.8,417.8 269.7,418.4 268.5,418.9 267.3,419.5 266.2,420.1 265.0,420.7 264.0,421.8 263.0,422.9 261.1,423.9 260.7,425.0 259.7,426.3 259.2,427.6 258.0,428.9 257.2,430.2 257.1,431.5 255.8,432.8 255.5,434.1 255.4,435.4 254.4,436.7 254.6,438.0 254.7,439.4 253.7,440.7 253.0,441.8 252.4,443.0 251.1,444.1 249.6,444.9 248.5,445.7 248.7,447.1 247.7,448.6 247.9,450.0 248.3,451.4 248.2,452.9 247.8,454.3 248.0,455.7 247.9,457.1 248.4,458.5 248.7,460.0 249.1,461.4 250.1,462.8 250.0,464.2 249.8,465.6 251.0,467.1 251.2,468.5 250.3,469.9 251.0,471.4 251.4,472.8 251.7,474.2 251.4,475.6 252.3,477.1 253.4,478.5 252.6,479.9 253.5,481.3 254.1,482.7 253.8,484.2 254.9,485.6 255.8,487.1 255.7,488.5 255.9,489.7 256.2,490.9 256.9,492.1 258.1,493.2 257.9,494.4 259.2,495.6 259.7,496.7 261.3,497.8 263.0,498.8 263.5,499.9 264.4,501.3 265.3,502.8 266.4,504.2 266.9,505.6 267.1,507.0 265.3,508.0 264.8,508.9 263.5,509.9 263.7,511.3 264.9,512.7 264.4,514.5 263.5,516.3 264.9,517.7 266.2,517.9 267.5,518.2 268.8,518.4 270.1,518.6 271.4,518.8 272.6,519.1 273.9,519.3 275.2,519.5 276.5,519.7 277.8,520.0 279.1,520.2 280.4,520.4 281.7,520.6 283.1,520.7 284.4,520.9 285.7,521.1 287.0,521.3 288.4,521.4 289.7,521.6 291.0,521.8 292.3,522.0 293.7,522.1 295.0,522.3 296.3,522.5 297.7,522.8 299.1,523.0 300.5,523.3 301.9,523.6 303.3,523.8 304.7,524.1 306.1,524.4 307.5,524.6 308.9,524.9 310.4,525.3 312.0,525.6 313.6,526.0 315.1,526.4 316.3,527.0 317.5,527.6 318.6,528.2 319.8,528.8 321.6,530.0 322.2,531.1" fill="none" stroke="#f01414" stroke-width="1.10" stroke-linejoin="round" stroke-linecap="round" clip-path="url(#cpD)"/>
<polyline points="322.2,541.3 312.0,542.1 304.2,543.7 315.1,545.2 322.2,546.3 318.3,549.1 322.2,551.0 317.5,553.5 322.2,555.0 318.3,556.6 322.2,557.7" fill="none" stroke="#f01414" stroke-width="1.10" stroke-linejoin="round" stroke-linecap="round" clip-path="url(#cpD)"/>
<rect x="225.6" y="389.0" width="97.3" height="178.2" fill="none" stroke="#a6a6a6" stroke-width="1.00" />
<line x1="225.9" y1="567.2" x2="225.9" y2="569.8" stroke="#a6a6a6" stroke-width="1"/>
<text transform="translate(222.5 572.4) rotate(90)" font-size="9.6" fill="#0d0d0d">0.90</text>
<line x1="257.8" y1="567.2" x2="257.8" y2="569.8" stroke="#a6a6a6" stroke-width="1"/>
<text transform="translate(254.4 572.4) rotate(90)" font-size="9.6" fill="#0d0d0d">0.95</text>
<line x1="290.2" y1="567.2" x2="290.2" y2="569.8" stroke="#a6a6a6" stroke-width="1"/>
<text transform="translate(286.8 572.4) rotate(90)" font-size="9.6" fill="#0d0d0d">1.00</text>
<line x1="322.5" y1="567.2" x2="322.5" y2="569.8" stroke="#a6a6a6" stroke-width="1"/>
<text transform="translate(319.1 572.4) rotate(90)" font-size="9.6" fill="#0d0d0d">1.05</text>
<line x1="241.9" y1="567.2" x2="241.9" y2="568.8" stroke="#c8c8c8" stroke-width="0.8"/>
<line x1="274.0" y1="567.2" x2="274.0" y2="568.8" stroke="#c8c8c8" stroke-width="0.8"/>
<line x1="306.4" y1="567.2" x2="306.4" y2="568.8" stroke="#c8c8c8" stroke-width="0.8"/>
<text x="305.6" y="409.2" font-size="10.4" font-weight="bold" text-anchor="middle" fill="#000" >ct</text>
<text x="278.2" y="466.0" font-size="10.4" font-weight="bold" text-anchor="middle" fill="#000" >m</text>
<text x="258.0" y="536.5" font-size="10.4" font-weight="bold" text-anchor="middle" fill="#000" >ct</text>
<text x="263.3" y="561.6" font-size="10.4" font-weight="bold" text-anchor="middle" fill="#000" >s</text>
<clipPath id="clip4"><path d="M326.5,572.0 C326.6,571.4 326.7,570.3 327.1,568.4 C327.5,566.4 327.8,565.5 329.1,560.3 C330.5,555.1 333.2,544.3 335.1,537.0 C336.9,529.8 338.7,523.4 340.5,516.8 C342.2,510.2 343.7,503.9 345.7,497.5 C347.6,491.2 350.6,483.6 352.4,478.4 C354.2,473.2 355.0,469.7 356.3,466.2 C357.6,462.6 358.9,460.1 360.1,457.1 C361.4,454.0 362.5,451.2 363.9,447.9 C365.3,444.5 367.1,440.4 368.6,437.1 C370.2,433.8 371.5,431.1 373.2,428.0 C374.9,425.0 376.8,421.6 378.6,418.8 C380.4,416.0 382.1,413.8 384.0,411.2 C385.9,408.7 388.1,405.8 390.1,403.5 C392.2,401.2 394.3,399.0 396.4,397.5 C398.4,395.9 400.4,394.9 402.5,394.0 C404.6,393.2 406.7,392.4 408.9,392.3 C411.1,392.2 413.7,392.9 415.9,393.6 C418.1,394.3 420.0,395.3 422.1,396.7 C424.1,398.1 426.2,399.9 428.3,402.0 C430.3,404.2 432.5,406.8 434.4,409.6 C436.3,412.4 438.1,415.7 439.8,418.8 C441.5,421.9 443.0,425.0 444.4,428.0 C445.8,431.1 447.1,434.1 448.3,437.1 C449.4,440.2 450.3,443.0 451.3,446.3 C452.4,449.7 453.5,453.8 454.4,457.1 C455.3,460.4 455.8,462.6 456.7,466.2 C457.6,469.7 458.5,473.2 459.8,478.4 C461.1,483.6 462.7,488.6 464.6,497.5 C466.5,506.5 469.0,520.7 471.1,532.0 C473.2,543.2 476.2,559.1 477.3,565.1 C478.5,571.2 477.3,567.2 477.9,568.4 C478.4,569.5 480.1,571.4 480.5,572.0Z"/></clipPath>
<clipPath id="box4"><rect x="334.2" y="389.1" width="211.5" height="177.8"/></clipPath>
<rect x="334.2" y="389.1" width="211.5" height="177.8" fill="#000"/>
<g clip-path="url(#box4)">
<g clip-path="url(#clip4)">
<path d="M326.5,572.0 C326.6,571.4 326.7,570.3 327.1,568.4 C327.5,566.4 327.8,565.5 329.1,560.3 C330.5,555.1 333.2,544.3 335.1,537.0 C336.9,529.8 338.7,523.4 340.5,516.8 C342.2,510.2 343.7,503.9 345.7,497.5 C347.6,491.2 350.6,483.6 352.4,478.4 C354.2,473.2 355.0,469.7 356.3,466.2 C357.6,462.6 358.9,460.1 360.1,457.1 C361.4,454.0 362.5,451.2 363.9,447.9 C365.3,444.5 367.1,440.4 368.6,437.1 C370.2,433.8 371.5,431.1 373.2,428.0 C374.9,425.0 376.8,421.6 378.6,418.8 C380.4,416.0 382.1,413.8 384.0,411.2 C385.9,408.7 388.1,405.8 390.1,403.5 C392.2,401.2 394.3,399.0 396.4,397.5 C398.4,395.9 400.4,394.9 402.5,394.0 C404.6,393.2 406.7,392.4 408.9,392.3 C411.1,392.2 413.7,392.9 415.9,393.6 C418.1,394.3 420.0,395.3 422.1,396.7 C424.1,398.1 426.2,399.9 428.3,402.0 C430.3,404.2 432.5,406.8 434.4,409.6 C436.3,412.4 438.1,415.7 439.8,418.8 C441.5,421.9 443.0,425.0 444.4,428.0 C445.8,431.1 447.1,434.1 448.3,437.1 C449.4,440.2 450.3,443.0 451.3,446.3 C452.4,449.7 453.5,453.8 454.4,457.1 C455.3,460.4 455.8,462.6 456.7,466.2 C457.6,469.7 458.5,473.2 459.8,478.4 C461.1,483.6 462.7,488.6 464.6,497.5 C466.5,506.5 469.0,520.7 471.1,532.0 C473.2,543.2 476.2,559.1 477.3,565.1 C478.5,571.2 477.3,567.2 477.9,568.4 C478.4,569.5 480.1,571.4 480.5,572.0Z" fill="#7ef840"/>
<g filter="url(#grain)">
<path d="M326.5,572.0 C326.6,571.4 326.7,570.3 327.1,568.4 C327.5,566.4 327.8,565.5 329.1,560.3 C330.5,555.1 333.2,544.3 335.1,537.0 C336.9,529.8 338.7,523.4 340.5,516.8 C342.2,510.2 343.7,503.9 345.7,497.5 C347.6,491.2 350.6,483.6 352.4,478.4 C354.2,473.2 355.0,469.7 356.3,466.2 C357.6,462.6 358.9,460.1 360.1,457.1 C361.4,454.0 362.5,451.2 363.9,447.9 C365.3,444.5 367.1,440.4 368.6,437.1 C370.2,433.8 371.5,431.1 373.2,428.0 C374.9,425.0 376.8,421.6 378.6,418.8 C380.4,416.0 382.1,413.8 384.0,411.2 C385.9,408.7 388.1,405.8 390.1,403.5 C392.2,401.2 394.3,399.0 396.4,397.5 C398.4,395.9 400.4,394.9 402.5,394.0 C404.6,393.2 406.7,392.4 408.9,392.3 C411.1,392.2 413.7,392.9 415.9,393.6 C418.1,394.3 420.0,395.3 422.1,396.7 C424.1,398.1 426.2,399.9 428.3,402.0 C430.3,404.2 432.5,406.8 434.4,409.6 C436.3,412.4 438.1,415.7 439.8,418.8 C441.5,421.9 443.0,425.0 444.4,428.0 C445.8,431.1 447.1,434.1 448.3,437.1 C449.4,440.2 450.3,443.0 451.3,446.3 C452.4,449.7 453.5,453.8 454.4,457.1 C455.3,460.4 455.8,462.6 456.7,466.2 C457.6,469.7 458.5,473.2 459.8,478.4 C461.1,483.6 462.7,488.6 464.6,497.5 C466.5,506.5 469.0,520.7 471.1,532.0 C473.2,543.2 476.2,559.1 477.3,565.1 C478.5,571.2 477.3,567.2 477.9,568.4 C478.4,569.5 480.1,571.4 480.5,572.0Z" fill="#7ef840"/>
<g filter="url(#b2)"><path d="M408.9,406.3 C414.1,406.0 421.1,401.5 424.8,402.0 C428.4,402.6 429.0,406.8 430.9,409.6 C432.8,412.4 434.6,415.7 436.3,418.8 C438.0,421.9 439.5,425.0 440.9,428.0 C442.3,431.1 443.6,434.1 444.8,437.1 C445.9,440.2 446.8,443.0 447.8,446.3 C448.9,449.7 450.0,453.8 450.9,457.1 C451.8,460.4 452.3,462.6 453.2,466.2 C454.1,469.7 472.5,476.4 456.3,478.4 C440.1,480.5 372.0,480.5 355.9,478.4 C339.8,476.4 358.5,469.7 359.8,466.2 C361.1,462.6 362.4,460.1 363.6,457.1 C364.9,454.0 366.0,451.2 367.4,447.9 C368.8,444.5 370.6,440.4 372.1,437.1 C373.7,433.8 375.0,431.1 376.7,428.0 C378.4,425.0 380.3,421.6 382.1,418.8 C383.9,416.0 385.6,413.8 387.5,411.2 C389.4,408.7 390.1,404.4 393.6,403.5 C397.2,402.7 403.7,406.6 408.9,406.3Z" fill="#7af0f0" opacity="0.42"/></g>
<g filter="url(#b3)"><path d="M408.7,417.3 C413.0,416.8 415.5,418.6 419.0,420.4 C422.5,422.2 426.7,425.3 429.8,428.1 C432.9,430.9 435.2,433.9 437.5,437.2 C439.8,440.5 441.6,444.3 443.7,447.9 C445.7,451.5 448.3,455.6 449.8,458.6 C451.3,461.7 451.9,462.9 452.9,466.2 C453.8,469.5 454.5,474.8 455.6,478.4 C456.8,481.9 459.9,484.3 459.7,487.5 C459.5,490.6 457.2,495.0 454.6,497.5 C452.1,500.0 448.0,501.1 444.4,502.6 C440.8,504.2 437.2,505.5 433.3,506.7 C429.4,507.9 424.9,509.1 420.9,509.7 C417.0,510.4 413.3,510.6 409.4,510.6 C405.5,510.6 401.5,510.4 397.5,509.7 C393.5,509.1 389.4,507.9 385.4,506.7 C381.5,505.5 377.6,504.2 374.0,502.6 C370.5,501.1 367.6,500.0 364.1,497.5 C360.6,495.0 354.3,490.6 353.1,487.5 C352.0,484.3 355.9,481.9 357.2,478.4 C358.5,474.8 359.2,470.0 360.9,466.2 C362.5,462.4 365.0,459.0 367.1,455.5 C369.1,451.9 370.9,448.4 373.2,444.9 C375.5,441.3 377.6,437.7 381.0,434.1 C384.3,430.6 388.6,426.2 393.2,423.4 C397.8,420.6 404.4,417.8 408.7,417.3Z" fill="#7af0f0" opacity="1.00"/></g>
<g filter="url(#b7)"><ellipse cx="409.7" cy="454.1" rx="24.5" ry="40.5" fill="#5fa4ee" opacity="0.97"/></g>
<g filter="url(#nz2)"><ellipse cx="409.7" cy="452.0" rx="21.4" ry="34.4" fill="#2f62de" opacity="1.00"/></g>
<g filter="url(#b2)"><path d="M346.5,499.6 C349.7,493.5 353.3,499.3 354.6,505.7 C356.0,512.1 355.3,527.4 354.6,538.1 C354.0,548.7 354.6,564.2 350.6,569.4 C346.5,574.7 332.7,574.0 330.2,569.4 C327.6,564.9 332.5,553.7 335.3,542.1 C338.0,530.5 343.2,505.7 346.5,499.6Z" fill="#7eeee0" opacity="0.95"/></g>
<g filter="url(#b2)"><path d="M462.8,501.6 C461.1,501.3 458.3,504.0 456.6,507.7 C454.9,511.4 452.9,518.2 452.6,523.9 C452.2,529.6 453.8,534.5 454.6,542.1 C455.5,549.7 453.2,564.9 457.7,569.4 C462.1,574.0 478.2,574.7 481.1,569.4 C484.0,564.2 477.4,548.0 475.0,538.1 C472.6,528.1 468.9,515.8 466.8,509.7 C464.8,503.7 464.5,502.0 462.8,501.6Z" fill="#7eeee0" opacity="0.95"/></g>
<g filter="url(#b2)"><path d="M364.8,518.8 C367.2,515.8 368.9,517.3 368.9,519.8 C368.9,522.4 365.9,528.6 364.8,534.0 C363.8,539.4 363.3,546.3 362.8,552.2 C362.3,558.1 364.2,566.6 361.8,569.4 C359.4,572.3 350.4,572.3 348.5,569.4 C346.7,566.6 349.5,557.5 350.6,552.2 C351.6,547.0 352.3,543.6 354.6,538.1 C357.0,532.5 362.5,521.9 364.8,518.8Z" fill="#62b6f4" opacity="1.00"/></g>
<g filter="url(#b2)"><path d="M441.2,520.9 C441.7,518.2 443.7,518.7 445.4,521.9 C447.1,525.1 450.2,534.7 451.5,540.1 C452.9,545.5 452.9,549.4 453.6,554.3 C454.3,559.1 457.0,566.9 455.6,569.4 C454.3,572.0 447.3,572.3 445.4,569.4 C443.6,566.6 444.9,557.5 444.4,552.2 C443.9,547.0 442.9,543.3 442.4,538.1 C441.8,532.8 440.7,523.6 441.2,520.9Z" fill="#62b6f4" opacity="1.00"/></g>
<g filter="url(#b3)"><path d="M364.8,511.7 C365.5,507.5 369.9,507.7 373.0,508.7 C376.1,509.7 379.5,515.3 383.2,517.8 C386.9,520.4 391.0,522.5 395.4,523.9 C399.9,525.2 405.0,525.9 409.7,525.9 C414.5,525.9 419.9,525.2 424.0,523.9 C428.1,522.5 431.1,520.0 434.2,517.8 C437.3,515.6 440.0,511.1 442.4,510.7 C444.7,510.4 448.1,511.9 448.5,515.8 C448.8,519.7 445.1,525.1 444.4,534.0 C443.7,543.0 457.0,563.5 444.4,569.4 C431.8,575.3 381.5,575.3 368.9,569.4 C356.3,563.5 369.6,543.6 368.9,534.0 C368.2,524.4 364.2,516.0 364.8,511.7Z" fill="#c6f244" opacity="1.00"/></g>
<g filter="url(#b3)"><path d="M368.9,523.9 C370.3,520.5 375.0,520.9 379.1,521.9 C383.2,522.9 388.3,528.3 393.4,530.0 C398.5,531.7 404.3,532.0 409.7,532.0 C415.2,532.0 421.3,531.3 426.0,530.0 C430.8,528.6 435.6,523.2 438.3,523.9 C441.0,524.6 442.0,526.4 442.4,534.0 C442.7,541.6 451.5,563.5 440.3,569.4 C429.1,575.3 386.6,574.0 375.0,569.4 C363.5,564.9 372.0,549.7 371.0,542.1 C369.9,534.5 367.6,527.3 368.9,523.9Z" fill="#f0ee3a" opacity="0.92"/></g>
<g filter="url(#b2)"><ellipse cx="371.0" cy="513.8" rx="5.1" ry="5.1" fill="#f2e83a" opacity="0.90"/></g>
<g filter="url(#b2)"><ellipse cx="440.3" cy="515.8" rx="5.1" ry="5.1" fill="#f2e83a" opacity="0.90"/></g>
<g filter="url(#b3)"><ellipse cx="405.6" cy="548.2" rx="30.6" ry="10.1" fill="#f8cc32" opacity="0.85"/></g>
<g filter="url(#b2)"><ellipse cx="405.6" cy="558.3" rx="24.5" ry="5.1" fill="#f4a42c" opacity="0.80"/></g>
<g filter="url(#nz3)"><ellipse cx="405.6" cy="548.2" rx="30.6" ry="13.2" fill="#f07a2c" opacity="1.00"/></g>
</g>
<path d="M380.7,560.8 C381.2,559.1 383.1,559.0 385.2,558.8 C387.4,558.6 391.4,560.1 393.4,559.5 C395.4,559.0 396.4,555.6 397.5,555.5 C398.6,555.3 398.9,557.9 400.0,558.7 C401.1,559.5 402.5,560.3 404.1,560.3 C405.7,560.3 407.5,558.7 409.4,558.7 C411.4,558.7 414.5,559.3 415.8,560.3 C417.2,561.3 417.2,563.3 417.4,564.8 C417.5,566.3 422.7,568.7 416.9,569.4 C411.0,570.2 388.2,570.9 382.2,569.4 C376.1,568.0 380.1,562.6 380.7,560.8Z" fill="#84170f" opacity="1.00"/>
<path d="M365.9,537.0 C366.1,535.9 367.9,534.3 368.9,534.0 C369.9,533.7 371.5,534.7 372.0,535.4 C372.4,536.2 370.7,537.4 371.6,538.5 C372.5,539.5 377.2,540.8 377.5,541.7 C377.7,542.6 374.5,543.7 373.0,544.1 C371.5,544.6 369.2,545.1 368.3,544.5 C367.4,544.0 367.9,542.1 367.5,540.9 C367.1,539.6 365.6,538.2 365.9,537.0Z" fill="#000" opacity="1.00"/>
<path d="M376.1,541.1 L391.4,543.6 L415.8,543.1 L438.3,546.4" stroke="#2a52c8" stroke-width="1.1" stroke-dasharray="5 2 2 2" fill="none"/>
<ellipse cx="440.2" cy="538.1" rx="1.1" ry="1.7" fill="#000" opacity="1.00"/>
<path d="M435.7,547.2 C436.2,546.8 439.1,546.2 439.7,546.4 C440.3,546.5 439.8,547.0 439.5,548.0 C439.2,549.0 438.7,550.4 438.1,552.2 C437.5,554.1 436.6,557.9 436.0,558.9 C435.4,559.9 434.4,559.5 434.4,558.3 C434.4,557.1 435.8,553.4 436.2,551.8 C436.6,550.2 436.9,549.4 436.9,548.6 C436.8,547.8 435.3,547.5 435.7,547.2Z" fill="#000" opacity="1.00"/>
<ellipse cx="380.1" cy="532.5" rx="1.5" ry="1.0" fill="#e84020" opacity="1.00"/>
<ellipse cx="386.3" cy="548.2" rx="1.5" ry="1.0" fill="#e84020" opacity="1.00"/>
</g>
<path d="M326.5,572.0 C326.6,571.4 326.7,570.3 327.1,568.4 C327.5,566.4 327.8,565.5 329.1,560.3 C330.5,555.1 333.2,544.3 335.1,537.0 C336.9,529.8 338.7,523.4 340.5,516.8 C342.2,510.2 343.7,503.9 345.7,497.5 C347.6,491.2 350.6,483.6 352.4,478.4 C354.2,473.2 355.0,469.7 356.3,466.2 C357.6,462.6 358.9,460.1 360.1,457.1 C361.4,454.0 362.5,451.2 363.9,447.9 C365.3,444.5 367.1,440.4 368.6,437.1 C370.2,433.8 371.5,431.1 373.2,428.0 C374.9,425.0 376.8,421.6 378.6,418.8 C380.4,416.0 382.1,413.8 384.0,411.2 C385.9,408.7 388.1,405.8 390.1,403.5 C392.2,401.2 394.3,399.0 396.4,397.5 C398.4,395.9 400.4,394.9 402.5,394.0 C404.6,393.2 406.7,392.4 408.9,392.3 C411.1,392.2 413.7,392.9 415.9,393.6 C418.1,394.3 420.0,395.3 422.1,396.7 C424.1,398.1 426.2,399.9 428.3,402.0 C430.3,404.2 432.5,406.8 434.4,409.6 C436.3,412.4 438.1,415.7 439.8,418.8 C441.5,421.9 443.0,425.0 444.4,428.0 C445.8,431.1 447.1,434.1 448.3,437.1 C449.4,440.2 450.3,443.0 451.3,446.3 C452.4,449.7 453.5,453.8 454.4,457.1 C455.3,460.4 455.8,462.6 456.7,466.2 C457.6,469.7 458.5,473.2 459.8,478.4 C461.1,483.6 462.7,488.6 464.6,497.5 C466.5,506.5 469.0,520.7 471.1,532.0 C473.2,543.2 476.2,559.1 477.3,565.1 C478.5,571.2 477.3,567.2 477.9,568.4 C478.4,569.5 480.1,571.4 480.5,572.0Z" fill="none" stroke="#c8f048" stroke-width="1.2" opacity="0.90"/>
</g>
<rect x="408" y="389.1" width="1.7" height="177.8" fill="#f02a1e"/>
<rect x="334.2" y="464.2" width="178.6" height="2.1" fill="#0a14e6"/>
<rect x="512.5" y="391.7" width="63" height="174.2" fill="#fff"/>
<rect x="519" y="400.1" width="12.8" height="160.2" fill="url(#cbar)"/>
<text x="533.9" y="406.9" font-size="9.6" font-weight="normal" text-anchor="start" fill="#0d0d0d" >0.91</text>
<text x="533.9" y="437.1" font-size="9.6" font-weight="normal" text-anchor="start" fill="#0d0d0d" >0.94</text>
<text x="533.9" y="469.0" font-size="9.6" font-weight="normal" text-anchor="start" fill="#0d0d0d" >0.98</text>
<text x="533.9" y="499.8" font-size="9.6" font-weight="normal" text-anchor="start" fill="#0d0d0d" >1.02</text>
<text x="533.9" y="530.4" font-size="9.6" font-weight="normal" text-anchor="start" fill="#0d0d0d" >1.06</text>
<text x="533.9" y="561.3" font-size="9.6" font-weight="normal" text-anchor="start" fill="#0d0d0d" >1.10</text>
<text x="543.8" y="482.3" font-size="12.0" text-anchor="start" fill="#0d0d0d">g/cm<tspan font-size="6.6" dy="-5.5">3</tspan></text>
</svg>
</body></html>
